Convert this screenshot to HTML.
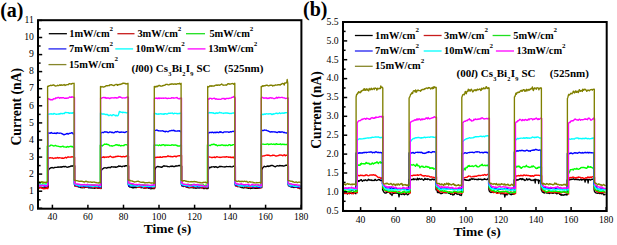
<!DOCTYPE html>
<html><head><meta charset="utf-8"><style>
html,body{margin:0;padding:0;background:#fff;width:617px;height:245px;overflow:hidden}
svg{display:block}
text{font-family:"Liberation Serif",serif;fill:#000}
.tk{font-size:9.7px}
.lg{font-size:10.4px;font-weight:bold}
.sup{font-size:7px}
.sub{font-size:6.3px}
.ttl{font-size:13.5px;font-weight:bold}
.lb{font-size:11px;font-weight:bold}
.pl{font-size:20px;font-weight:bold}
.curves path{fill:none;stroke-width:1.35;stroke-linejoin:round}
.ax line{stroke:#000;stroke-width:1.5}
</style></head><body>
<svg width="617" height="245" viewBox="0 0 617 245">
<rect width="617" height="245" fill="#fff"/>
<!-- panel a -->
<g class="curves">
<path d="M38.5 187.5 L39 187.5 L39.5 187.6 L40 187.6 L40.5 187.5 L41.1 187.3 L41.6 187.3 L42.1 187.7 L42.6 187.8 L43.1 188 L43.6 188 L44.1 188 L44.6 188 L45.1 187.5 L45.6 187.8 L46.2 187.9 L46.7 188 L47.2 187.6 L47.7 187.2 L48.2 187.2 L48.2 171 L48.7 169.6 L49.2 169 L49.7 168.5 L50.2 168.3 L50.7 167.9 L51.2 167.7 L51.7 167.7 L52.2 167.5 L52.7 167.9 L53.2 167.9 L53.7 168 L54.2 167.7 L54.7 167.5 L55.2 167.3 L55.7 167.3 L56.2 167.4 L56.7 167.4 L57.2 167.3 L57.7 167 L58.2 166.9 L58.7 167.3 L59.2 167 L59.7 167.1 L60.2 167.2 L60.7 166.8 L61.2 166.9 L61.7 167.2 L62.2 166.7 L62.7 166.7 L63.2 166.7 L63.7 166.5 L64.2 166.7 L64.7 166.7 L65.2 166.4 L65.7 166.7 L66.2 166.9 L66.7 167 L67.2 167.3 L67.7 167.2 L68.2 167.1 L68.7 166.7 L69.2 166.8 L69.7 166.6 L70.2 166.5 L70.7 166.2 L71.2 166 L71.7 166 L72.2 166.4 L72.7 165.8 L73.2 165.5 L73.7 165.6 L74.2 165.9 L74.7 165.8 L74.7 185.8 L75.2 186 L75.7 185.9 L76.2 185.6 L76.7 186.1 L77.2 186.2 L77.7 186.1 L78.2 186.6 L78.7 187 L79.2 187 L79.7 187.1 L80.2 187.2 L80.7 187.6 L81.2 187.6 L81.7 187.7 L82.2 187.7 L82.7 187.2 L83.2 187.6 L83.7 187.7 L84.2 187.8 L84.7 187.2 L85.2 187.1 L85.7 187.4 L86.2 187 L86.7 187.1 L87.2 187.4 L87.7 187.2 L88.1 187.6 L88.6 187.8 L89.1 187.7 L89.6 187.8 L90.1 187.9 L90.6 187.9 L91.1 188.1 L91.6 187.9 L92.1 187.8 L92.6 188 L93.1 188 L93.6 187.8 L94.1 188 L94.6 188.3 L95.1 188.1 L95.6 187.8 L96.1 187.8 L96.6 187.8 L97.1 187.8 L97.6 188.2 L98.1 188 L98.6 188.3 L99.1 188 L99.6 187.8 L100.1 188.1 L100.6 188.4 L101.1 188.6 L101.1 171 L101.6 170 L102.1 169.3 L102.6 168.8 L103.1 168.6 L103.6 168.2 L104.1 167.9 L104.6 167.9 L105.1 167.7 L105.6 167.8 L106.1 167.8 L106.6 168.2 L107.1 168 L107.6 167.7 L108.1 167.5 L108.6 167.4 L109.1 167.6 L109.6 167.4 L110.1 167.4 L110.6 167.7 L111.1 167 L111.6 166.7 L112.1 166.8 L112.6 166.9 L113.1 167 L113.6 166.9 L114.1 167 L114.6 167 L115.1 166.8 L115.6 167.4 L116.1 167.3 L116.6 167 L117.1 166.9 L117.6 166.7 L118.1 166.7 L118.6 166 L119.1 166 L119.6 166.3 L120.1 166.1 L120.6 166.1 L121.1 166.4 L121.6 166.6 L122.1 166.8 L122.6 166.3 L123.1 166.2 L123.6 166.1 L124.1 166.2 L124.6 166.5 L125.1 165.7 L125.6 166 L126.1 165.7 L126.6 165.9 L127.1 165.6 L127.6 165.7 L128.1 166 L128.6 165.9 L128.6 185.8 L129.1 186.5 L129.6 186.8 L130.1 187.1 L130.6 187.1 L131.1 187.1 L131.6 187.4 L132.1 187.6 L132.6 187.4 L133.1 188 L133.6 187.5 L134.1 187.6 L134.6 187.5 L135.1 187.4 L135.5 187.5 L136 187.5 L136.5 187.6 L137 187.2 L137.5 186.9 L138 187.2 L138.5 187 L139 186.9 L139.5 186.7 L140 187.2 L140.5 187.4 L141 187.8 L141.5 187.5 L142 187.5 L142.5 187.3 L143 187.6 L143.5 188 L144 187.7 L144.5 188.1 L145 188.2 L145.5 188.1 L146 187.5 L146.5 187.9 L147 187.9 L147.5 187.8 L148 187.9 L148.4 188 L148.9 188.3 L149.4 188 L149.9 188.3 L150.4 188.6 L150.9 188.8 L151.4 188.6 L151.9 188.3 L152.4 188.5 L152.9 188.4 L153.4 188.4 L153.9 188.7 L154.4 188.5 L154.9 187.9 L154.9 170 L155.4 168.6 L155.9 167.4 L156.4 167.1 L156.9 166.8 L157.4 166.5 L157.9 166.5 L158.4 166.7 L158.9 166.7 L159.4 166.9 L159.9 166.8 L160.4 167 L160.9 167.2 L161.4 167.4 L161.8 167 L162.3 167.1 L162.8 166.5 L163.3 166.2 L163.8 165.8 L164.3 166.2 L164.8 166 L165.3 166.1 L165.8 166.2 L166.3 166.2 L166.8 166.1 L167.3 166.3 L167.8 166.7 L168.3 166.6 L168.8 166.7 L169.3 166.8 L169.8 166.7 L170.3 166.3 L170.8 166.2 L171.3 166.5 L171.8 166.1 L172.3 166 L172.8 166.3 L173.3 166.5 L173.8 166.4 L174.3 166.6 L174.8 166.6 L175.2 166.2 L175.7 165.9 L176.2 165.8 L176.7 166.1 L177.2 166 L177.7 165.9 L178.2 165.8 L178.7 165.5 L179.2 165.7 L179.7 165.5 L180.2 165.8 L180.7 165.3 L181.2 165.6 L181.7 166.2 L181.7 185.8 L182.2 185.9 L182.7 185.9 L183.2 186.4 L183.7 186.5 L184.2 186.1 L184.7 186.2 L185.2 186.5 L185.7 186.5 L186.2 186.8 L186.7 187.1 L187.2 187.3 L187.7 187.3 L188.2 187.6 L188.7 187.7 L189.2 187.7 L189.7 187.1 L190.2 187.4 L190.7 187.7 L191.2 187.5 L191.7 187.4 L192.2 187.8 L192.7 187.3 L193.2 187.5 L193.7 188.1 L194.2 187.7 L194.7 187.8 L195.3 188.2 L195.8 188 L196.3 188.1 L196.8 188.2 L197.3 187.8 L197.8 187.8 L198.3 187.9 L198.8 188 L199.3 188 L199.8 187.9 L200.3 187.6 L200.8 187.6 L201.3 187.9 L201.8 187.9 L202.3 187.7 L202.8 187.6 L203.3 188.3 L203.8 188.5 L204.3 188.6 L204.8 187.8 L205.3 188.1 L205.8 188.2 L206.3 188.6 L206.8 188.6 L207.3 188.5 L207.8 188.5 L208.3 188 L208.3 170 L208.8 168.5 L209.3 167.9 L209.8 167.3 L210.3 167.4 L210.8 167.6 L211.3 167 L211.8 166.8 L212.3 166.9 L212.8 166.9 L213.3 166.8 L213.8 166.6 L214.3 167.1 L214.8 167.3 L215.3 166.9 L215.8 166.6 L216.3 167 L216.8 167.2 L217.3 167.5 L217.8 167.5 L218.3 167.1 L218.8 167.1 L219.3 166.5 L219.8 166.4 L220.3 166.5 L220.8 166.7 L221.3 166.5 L221.8 166.6 L222.4 166.7 L222.9 166.8 L223.4 166.9 L223.9 166.9 L224.4 166.8 L224.9 167 L225.4 166.9 L225.9 166.7 L226.4 166.5 L226.9 166.6 L227.4 166.6 L227.9 166.6 L228.4 166.6 L228.9 166.7 L229.4 166.6 L229.9 166.4 L230.4 166.5 L230.9 166.8 L231.4 166.9 L231.9 166.8 L232.4 166.8 L232.9 166.5 L233.4 166.1 L233.9 166.3 L234.4 166.1 L234.9 166.4 L235.4 166.6 L235.4 185.8 L235.9 185.9 L236.4 185.7 L236.9 185.8 L237.4 186.5 L237.9 186.6 L238.4 186.4 L238.9 186.4 L239.4 186.7 L239.9 186.9 L240.4 187 L240.9 187.4 L241.4 187.5 L241.9 187.4 L242.4 187.5 L242.9 187.8 L243.4 187.9 L243.9 188 L244.4 187.6 L244.9 187.5 L245.4 187.7 L245.9 187.5 L246.4 187.8 L246.9 187.8 L247.4 188 L247.9 187.8 L248.4 188.3 L248.8 188.4 L249.3 188.2 L249.8 188.1 L250.3 188.6 L250.8 188.3 L251.3 188.3 L251.8 188.4 L252.3 188.3 L252.8 187.9 L253.3 187.9 L253.8 188 L254.3 188.2 L254.8 188.3 L255.3 188.2 L255.8 188.4 L256.3 188.4 L256.8 188.3 L257.3 188.3 L257.8 188.2 L258.3 188.3 L258.8 188 L259.3 187.9 L259.8 188 L260.3 187.7 L260.8 187.7 L261.3 187.4 L261.8 187.5 L261.8 170 L262.3 168.5 L262.8 167.8 L263.3 167.3 L263.8 166.8 L264.3 166.2 L264.8 166.6 L265.3 166.7 L265.8 166.8 L266.3 166.5 L266.8 166.4 L267.3 166 L267.8 166.2 L268.3 166.5 L268.8 166 L269.3 166.1 L269.8 166.3 L270.3 165.9 L270.8 165.5 L271.3 165.5 L271.8 165.5 L272.3 165.4 L272.8 165.6 L273.3 165.8 L273.8 166.1 L274.3 166.3 L274.8 166.6 L275.4 166.8 L275.9 166.3 L276.4 166.2 L276.9 165.9 L277.4 165.7 L277.9 165.8 L278.4 165.9 L278.9 166.1 L279.4 165.7 L279.9 165.5 L280.4 165.7 L280.9 165.7 L281.4 165.7 L281.9 165.8 L282.4 165.7 L282.9 166 L283.4 166.1 L283.9 166 L284.4 165.9 L284.9 165.9 L285.4 165.3 L285.9 165.2 L286.4 165.4 L286.9 165.2 L287.4 165.5 L287.9 165.6 L288.4 166 L288.4 185.8 L288.9 185.4 L289.4 185.9 L289.9 186.2 L290.4 186.6 L290.9 186.9 L291.4 187 L291.9 186.9 L292.4 187 L292.9 187.1 L293.4 187.4 L293.9 187.5 L294.5 187.4 L295 187.2 L295.5 187.2 L296 187.2 L296.5 187.1 L297 187.3 L297.5 187.4 L298 187.6 L298.5 187.8 L299 187.8 L299.5 188.5 L300 188.4 L300.5 188.6" stroke="#000000"/>
<path d="M38.5 187.8 L39 187.8 L39.5 188.1 L40 187.5 L40.5 187.5 L41 187.6 L41.5 187.9 L42 188.4 L42.5 188.4 L43 188.6 L43.4 188.7 L43.9 188.7 L44.4 188.7 L44.9 188.5 L45.4 188.6 L45.9 188.2 L46.4 188.5 L46.9 188.2 L47.4 188.3 L47.9 188.7 L47.9 157.8 L48.4 157.7 L48.9 157.7 L49.4 158.1 L49.9 158 L50.4 157.7 L50.9 157.8 L51.4 157.9 L51.9 158 L52.4 157.8 L52.9 158.2 L53.4 158.5 L53.9 158.3 L54.4 158.2 L55 158 L55.5 158.2 L56 157.9 L56.5 158 L57 157.8 L57.5 157.5 L58 157.7 L58.5 158.1 L59 157.9 L59.5 157.7 L60 157.8 L60.5 157.8 L61 157.8 L61.5 158.1 L62 158.3 L62.5 157.9 L63 158.4 L63.5 158.2 L64 158.2 L64.5 157.9 L65 157.7 L65.5 157.2 L66 157.7 L66.5 158 L67 157.5 L67.5 157.1 L68.1 156.8 L68.6 157.2 L69.1 157.1 L69.6 157.2 L70.1 157.1 L70.6 157.2 L71.1 156.9 L71.6 157 L72.1 156.7 L72.6 156.8 L73.1 157 L73.6 157.2 L74.1 157.2 L74.6 157.3 L74.6 184.8 L75.1 185.6 L75.6 185.9 L76.1 186 L76.6 186.4 L77.1 186.6 L77.6 186.5 L78.1 186.4 L78.6 186.2 L79.1 186 L79.6 186.1 L80.1 186.2 L80.6 186.4 L81.2 186.6 L81.7 187.1 L82.2 186.8 L82.7 186.8 L83.2 187.4 L83.7 186.8 L84.2 186.7 L84.7 186.7 L85.2 186.8 L85.7 186.9 L86.2 186.9 L86.7 187 L87.2 187 L87.7 187.2 L88.2 186.7 L88.7 186.6 L89.2 186.7 L89.7 186.6 L90.2 186.5 L90.7 186.8 L91.2 186.8 L91.7 187 L92.2 187.3 L92.7 187.4 L93.2 187.5 L93.7 187.5 L94.2 187.1 L94.8 187.2 L95.3 187.4 L95.8 187.3 L96.3 187.4 L96.8 187.6 L97.3 187.4 L97.8 187.6 L98.3 188.1 L98.8 187.9 L99.3 187.9 L99.8 187.8 L100.3 188.2 L100.8 188.2 L100.8 157.4 L101.3 157.5 L101.8 157.3 L102.3 157.3 L102.8 157.3 L103.3 156.8 L103.8 157.3 L104.3 157.5 L104.8 156.9 L105.3 157.2 L105.8 157.1 L106.3 157.2 L106.8 157.3 L107.3 156.8 L107.9 156.8 L108.4 157.2 L108.9 157 L109.4 156.7 L109.9 156.4 L110.4 156.2 L110.9 156.5 L111.4 157 L111.9 157.1 L112.4 157.1 L112.9 157.6 L113.4 157.2 L113.9 156.9 L114.4 157 L114.9 157.1 L115.4 156.7 L115.9 156.4 L116.4 156.5 L116.9 156.6 L117.4 156.2 L117.9 156.2 L118.4 156.2 L118.9 156.4 L119.4 156.4 L119.9 156.4 L120.4 156.3 L120.9 156.6 L121.4 156.9 L122 156.7 L122.5 156.8 L123 156.5 L123.5 156.4 L124 156.6 L124.5 156.9 L125 156.6 L125.5 156.5 L126 156.5 L126.5 156 L127 156 L127.5 155.8 L128 156 L128.5 156.1 L128.5 184.8 L129 185.4 L129.5 185.3 L130 185.6 L130.5 185.9 L131 185.9 L131.5 186.2 L132 186.2 L132.5 186.1 L133 186.3 L133.5 186 L134 185.9 L134.5 186.1 L135 186.4 L135.5 186.4 L136 186.5 L136.5 186.4 L137 186.6 L137.5 187 L138 186.8 L138.5 187.3 L139 187 L139.5 187 L140 187 L140.5 187.2 L141 186.9 L141.6 186.4 L142.1 186.7 L142.6 187 L143.1 187.2 L143.6 187.8 L144.1 187.7 L144.6 187.6 L145.1 187.7 L145.6 187.7 L146.1 188 L146.6 187.5 L147.1 187.4 L147.6 186.6 L148.1 187 L148.6 187 L149.1 187.4 L149.6 187.9 L150.1 187.8 L150.6 187.7 L151.1 187.6 L151.6 187.4 L152.1 187.4 L152.6 187.6 L153.1 187.7 L153.6 187.7 L154.1 187.7 L154.6 188 L154.6 157.4 L155.1 157.4 L155.6 157.3 L156.1 157.5 L156.6 157.3 L157.1 157 L157.6 157.4 L158.1 157.4 L158.6 157.1 L159.1 157.3 L159.6 157.3 L160.1 156.8 L160.6 157.3 L161.1 157.2 L161.6 157.4 L162.1 157.3 L162.6 157.1 L163.1 156.6 L163.6 156.9 L164.1 156.8 L164.6 156.7 L165.1 156.7 L165.6 156.7 L166.1 156.8 L166.6 156.6 L167.1 156.6 L167.6 156 L168.1 155.9 L168.6 156.2 L169.1 156.6 L169.6 156.4 L170.1 156.3 L170.6 156.7 L171.1 156.5 L171.6 156.6 L172.1 156.9 L172.6 156.7 L173.1 156.8 L173.6 156.4 L174.1 156.4 L174.6 156.2 L175.1 156.2 L175.6 156.4 L176.1 156.9 L176.6 156.4 L177.1 156.1 L177.6 156.1 L178.1 155.7 L178.6 155.8 L179.1 155.9 L179.6 155.7 L180.1 155.8 L180.6 155.3 L181.1 155.5 L181.6 155.5 L181.6 184.8 L182.1 185.2 L182.6 185.4 L183.1 185.5 L183.6 185.7 L184.1 186 L184.6 186.1 L185.1 186.1 L185.6 186.3 L186.1 186.7 L186.6 186.6 L187.1 186.7 L187.6 186.9 L188.1 186.9 L188.6 186.5 L189.1 187.1 L189.6 187.5 L190.1 186.8 L190.6 186.8 L191.1 186.9 L191.6 187.1 L192.1 187.2 L192.6 187 L193.1 186.7 L193.6 186.8 L194.1 187.1 L194.6 186.8 L195 186.6 L195.5 186.7 L196 186.4 L196.5 186.5 L197 186.6 L197.5 186.8 L198 186.8 L198.5 186.7 L199 186.7 L199.5 186.9 L200 186.8 L200.5 187 L201 187.3 L201.5 187.6 L202 188 L202.5 187.7 L203 187.5 L203.5 187 L204 187.6 L204.5 187.4 L205 187.5 L205.5 187.7 L206 187.4 L206.5 187.6 L207 187.6 L207.5 187.3 L208 187.5 L208 157 L208.5 157.3 L209 156.8 L209.5 157 L210 157.1 L210.5 157.2 L211 157.3 L211.5 157.5 L212 157.3 L212.5 157.5 L213 157.3 L213.5 157.4 L214 157.1 L214.5 157 L214.9 157.5 L215.4 157.5 L215.9 157.3 L216.4 156.9 L216.9 156.7 L217.4 156.9 L217.9 157.1 L218.4 157.2 L218.9 157.3 L219.4 157.2 L219.9 157.5 L220.4 157.3 L220.9 157.1 L221.4 157.3 L221.9 157.2 L222.4 157.1 L222.9 156.9 L223.4 156.9 L223.9 157.1 L224.4 157.1 L224.9 156.8 L225.4 157 L225.9 157 L226.4 156.7 L226.9 157 L227.4 156.9 L227.9 156.9 L228.4 157.1 L228.8 157.4 L229.3 157.1 L229.8 157.2 L230.3 156.9 L230.8 157.6 L231.3 157.3 L231.8 157.5 L232.3 157.2 L232.8 157.4 L233.3 157.9 L233.8 157 L234.3 156.9 L234.8 157 L235.3 157 L235.3 184.8 L235.8 185.2 L236.3 185.4 L236.8 186.2 L237.3 186.2 L237.8 185.9 L238.3 186.2 L238.8 185.8 L239.3 186.3 L239.8 186.2 L240.3 186.3 L240.8 186.6 L241.3 186.6 L241.8 186.3 L242.4 186 L242.9 186.4 L243.4 186.6 L243.9 186.5 L244.4 186.7 L244.9 186.9 L245.4 187 L245.9 186.4 L246.4 186.5 L246.9 186.8 L247.4 187 L247.9 187.2 L248.4 186.6 L248.9 186.7 L249.4 186.9 L249.9 187.6 L250.4 187.2 L250.9 187.1 L251.4 187.2 L251.9 187.4 L252.4 187.3 L252.9 187.5 L253.4 187.3 L253.9 187.4 L254.4 187.3 L254.9 187.4 L255.5 187.2 L256 186.9 L256.5 187.3 L257 187.5 L257.5 187.4 L258 187.5 L258.5 187.8 L259 187.5 L259.5 187.6 L260 187.8 L260.5 187.9 L261 187.8 L261.5 187.3 L261.5 155.8 L262 156.2 L262.5 156.1 L263 156 L263.5 155.9 L264 155.9 L264.5 155.8 L265 155.5 L265.5 155.3 L266 155.3 L266.5 155.2 L267 155 L267.5 155.4 L268 155.1 L268.4 155.4 L268.9 155.2 L269.4 155.4 L269.9 155.8 L270.4 155.8 L270.9 155.6 L271.4 155.6 L271.9 155.7 L272.4 155.2 L272.9 155.1 L273.4 155.3 L273.9 155.2 L274.4 155.4 L274.9 155.6 L275.4 155.8 L275.9 156 L276.4 156 L276.9 155.8 L277.4 155.8 L277.9 155.6 L278.4 155.5 L278.9 155.5 L279.4 155 L279.9 155.1 L280.4 155.2 L280.9 155 L281.4 155.1 L281.8 155.3 L282.3 155.3 L282.8 155.9 L283.3 155.1 L283.8 155.1 L284.3 154.7 L284.8 155.2 L285.3 155.9 L285.8 155.1 L286.3 155.2 L286.8 155.4 L287.3 155.3 L287.8 155.5 L288.3 155.4 L288.3 184.8 L288.8 184.6 L289.3 185.4 L289.8 185.8 L290.3 186 L290.8 186.1 L291.4 186.4 L291.9 186.4 L292.4 186.5 L292.9 186.5 L293.4 186.1 L293.9 186.3 L294.4 186.6 L294.9 186.9 L295.4 186.8 L295.9 186.9 L296.4 187.2 L296.9 187.3 L297.4 187.7 L298 188.1 L298.5 187.8 L299 187.4 L299.5 187.7 L300 188.1 L300.5 188.3" stroke="#ff0000"/>
<path d="M38.5 182.6 L39 182.8 L39.5 182.6 L40 182.5 L40.5 182.8 L40.9 182.6 L41.4 182.3 L41.9 182.2 L42.4 182.9 L42.9 183.2 L43.4 183 L43.9 182.8 L44.4 182.9 L44.9 182.8 L45.3 183.1 L45.8 183.1 L46.3 182.8 L46.8 183.1 L47.3 183 L47.3 146.1 L47.8 146.2 L48.3 146.2 L48.8 146.1 L49.3 146.2 L49.8 146 L50.3 145.6 L50.8 145.1 L51.3 145.1 L51.8 145.1 L52.3 145.4 L52.8 145.6 L53.3 145.9 L53.8 146 L54.3 145.9 L54.8 145.8 L55.3 145.4 L55.8 145.5 L56.3 145.9 L56.8 146.1 L57.3 146.1 L57.8 146.1 L58.3 146.4 L58.8 146.4 L59.3 146.6 L59.8 146.7 L60.3 146.7 L60.9 146.9 L61.4 146.6 L61.9 146.5 L62.4 146.3 L62.9 146.1 L63.4 146.6 L63.9 147 L64.4 146.9 L64.9 146.9 L65.4 147.1 L65.9 147.2 L66.4 147.3 L66.9 146.8 L67.4 146.5 L67.9 146.6 L68.4 147 L68.9 146.9 L69.4 146.6 L69.9 146.5 L70.4 146.3 L70.9 146.2 L71.4 146.7 L71.9 146.5 L72.4 146.5 L72.9 147.1 L73.4 147.3 L73.9 147.2 L74.4 146.6 L74.4 183.2 L74.9 183.7 L75.4 184.1 L75.9 184.6 L76.4 184.8 L76.9 185 L77.4 184.9 L77.9 185 L78.4 184.9 L78.9 184.9 L79.4 185.1 L79.9 184.8 L80.4 184.8 L80.9 184.8 L81.3 184.7 L81.8 184.7 L82.3 184.9 L82.8 185.3 L83.3 185.4 L83.8 185.3 L84.3 184.9 L84.8 185.4 L85.3 185.3 L85.8 185.2 L86.3 185 L86.8 185 L87.3 184.8 L87.8 184.9 L88.3 185.1 L88.8 185.2 L89.3 185.2 L89.8 185.1 L90.3 185.4 L90.8 185.3 L91.3 185 L91.8 185 L92.3 185 L92.8 184.9 L93.3 185 L93.8 185.2 L94.2 185 L94.7 185.1 L95.2 185.5 L95.7 185.7 L96.2 185.7 L96.7 185.7 L97.2 185.7 L97.7 185.7 L98.2 185.9 L98.7 185.8 L99.2 185.3 L99.7 185.5 L100.2 185.4 L100.2 145.2 L100.7 145.8 L101.2 145.5 L101.7 145.5 L102.2 146 L102.7 145.5 L103.2 145.1 L103.7 144.8 L104.2 144.3 L104.7 144 L105.2 144.4 L105.7 144.4 L106.2 144.1 L106.7 144 L107.2 144.5 L107.7 144.4 L108.2 144.5 L108.7 144.8 L109.2 145.3 L109.7 145.8 L110.2 145.9 L110.7 145.8 L111.2 145.7 L111.7 146 L112.2 146.2 L112.7 145.9 L113.2 145.8 L113.7 145.7 L114.2 145.6 L114.8 145.4 L115.3 145 L115.8 144.9 L116.3 144.6 L116.8 145 L117.3 145.2 L117.8 144.9 L118.3 145.3 L118.8 145.5 L119.3 145 L119.8 145.5 L120.3 145.6 L120.8 146.1 L121.3 145.5 L121.8 145.6 L122.3 145.6 L122.8 145.6 L123.3 145.5 L123.8 145.7 L124.3 145.2 L124.8 144.9 L125.3 144.6 L125.8 144.6 L126.3 144.6 L126.8 144.8 L127.3 145 L127.8 145.1 L128.3 145.2 L128.3 183.2 L128.8 183.4 L129.3 183.7 L129.8 184.2 L130.3 184.5 L130.8 184.6 L131.3 184.5 L131.8 184.9 L132.3 184.7 L132.8 184.8 L133.3 185.1 L133.8 184.9 L134.3 185.1 L134.9 184.8 L135.4 185 L135.9 185 L136.4 184.7 L136.9 184.9 L137.4 184.7 L137.9 185.1 L138.4 184.9 L138.9 184.9 L139.4 185 L139.9 185 L140.4 185.1 L140.9 185 L141.4 185.2 L141.9 185.2 L142.4 185.2 L142.9 184.7 L143.4 185.1 L143.9 185.2 L144.4 184.9 L144.9 185 L145.4 185.2 L145.9 185.5 L146.4 185.3 L146.9 185.6 L147.4 185.6 L148 186 L148.5 185.9 L149 186 L149.5 185.8 L150 185.5 L150.5 185.8 L151 186 L151.5 186.2 L152 186.3 L152.5 186 L153 185.7 L153.5 185.6 L154 185.5 L154 145.2 L154.5 144.9 L155 145.1 L155.5 145.2 L156 145.1 L156.5 145.2 L157 145.1 L157.5 145.2 L158 145.4 L158.5 145.6 L159 145.3 L159.5 144.9 L160 145.3 L160.5 145.3 L161 145.6 L161.5 145 L162 145 L162.5 145 L163 144.7 L163.5 144.6 L164 144.9 L164.5 145.3 L165 145.7 L165.5 145.3 L166 144.9 L166.5 145.1 L167 145.3 L167.5 145.3 L167.9 144.9 L168.4 145.2 L168.9 145.4 L169.4 145.4 L169.9 145.2 L170.4 145.3 L170.9 145.4 L171.4 145.2 L171.9 144.7 L172.4 144.8 L172.9 145 L173.4 145 L173.9 145.3 L174.4 145.1 L174.9 145 L175.4 145 L175.9 145.1 L176.4 145.5 L176.9 145.3 L177.4 145.8 L177.9 146 L178.4 146 L178.9 145.9 L179.4 146.1 L179.9 145.8 L180.4 145.6 L180.9 145.1 L181.4 145 L181.4 183.2 L181.9 183.7 L182.4 184.3 L182.9 184.5 L183.4 184.7 L183.9 184.6 L184.4 184.7 L184.9 184.4 L185.4 184.7 L185.9 184.6 L186.4 184.4 L186.9 184.4 L187.4 184.3 L187.9 184.6 L188.4 184.9 L188.9 184.6 L189.4 184.9 L189.9 185.1 L190.4 184.9 L190.9 184.6 L191.4 184.6 L191.9 184.6 L192.4 184.8 L192.9 184.8 L193.4 184.5 L193.9 184.7 L194.4 184.5 L194.9 184.9 L195.4 184.7 L195.9 184.7 L196.4 184.7 L196.9 184.7 L197.4 185.1 L197.9 185.4 L198.4 185.5 L198.9 185.5 L199.4 185.2 L199.9 185.2 L200.4 185.1 L200.9 185 L201.4 185.3 L201.9 185.2 L202.4 185.2 L202.9 185.1 L203.4 184.8 L203.9 185.2 L204.4 185.6 L204.9 185.6 L205.4 185.5 L205.9 185 L206.4 185.3 L206.9 185.6 L207.4 185.8 L207.4 144.8 L207.9 145.2 L208.4 145.5 L208.9 145.6 L209.4 145.3 L209.9 145.4 L210.4 145.5 L210.9 144.9 L211.4 144.8 L211.9 144.4 L212.4 144.5 L212.9 144.7 L213.4 144.4 L213.9 144 L214.5 144.5 L215 144.7 L215.5 145.1 L216 144.7 L216.5 145 L217 145.5 L217.5 145.9 L218 145.5 L218.5 145.4 L219 145.2 L219.5 145.4 L220 145.5 L220.5 145.4 L221 144.9 L221.5 145 L222 144.9 L222.5 145 L223 145 L223.5 145.4 L224 145.6 L224.5 145.2 L225 145.2 L225.5 145.6 L226 145.2 L226.5 145.2 L227 145.5 L227.5 145.6 L228 145.6 L228.6 145 L229.1 144.6 L229.6 144.7 L230.1 144.9 L230.6 145.5 L231.1 145.1 L231.6 145.3 L232.1 145.4 L232.6 144.8 L233.1 144.6 L233.6 144.7 L234.1 144.6 L234.6 144.6 L235.1 144.8 L235.1 183.2 L235.6 183.8 L236.1 184 L236.6 184.3 L237.1 184.3 L237.6 184.3 L238.1 184.5 L238.6 184.4 L239.1 184.6 L239.6 184.9 L240.1 184.9 L240.6 184.8 L241.1 185 L241.5 184.9 L242 185.1 L242.5 184.8 L243 184.9 L243.5 184.8 L244 184.7 L244.5 185.1 L245 184.9 L245.5 185.3 L246 185.4 L246.5 185.6 L247 185.3 L247.5 185.5 L248 185.7 L248.5 185.6 L249 185.5 L249.5 185.9 L250 185.8 L250.5 185.6 L251 185.4 L251.5 185.5 L252 185.5 L252.5 185.5 L253 185.9 L253.5 185.7 L254 185.7 L254.4 186 L254.9 185.7 L255.4 185.9 L255.9 186.2 L256.4 185.8 L256.9 185.5 L257.4 185.4 L257.9 185.1 L258.4 185.3 L258.9 185.1 L259.4 185.4 L259.9 185.8 L260.4 185.5 L260.9 185.5 L260.9 144.5 L261.4 143.8 L261.9 144.2 L262.4 144.1 L262.9 144.1 L263.4 144.2 L263.9 144.4 L264.4 144.4 L264.9 144.4 L265.4 144.3 L265.9 144.4 L266.4 144.1 L266.9 144.2 L267.4 143.8 L268 143.8 L268.5 144.5 L269 144.5 L269.5 144.2 L270 144.3 L270.5 144.1 L271 143.8 L271.5 143.8 L272 144.1 L272.5 144.3 L273 144.3 L273.5 144.1 L274 143.9 L274.5 144.4 L275 144.5 L275.5 144.3 L276 143.8 L276.5 143.6 L277 144.5 L277.5 144.2 L278 144.2 L278.5 144.4 L279 144.4 L279.5 144.3 L280 144 L280.5 143.8 L281 144.5 L281.6 144.3 L282.1 144.5 L282.6 144.1 L283.1 144.1 L283.6 144.3 L284.1 144.6 L284.6 144.3 L285.1 144.5 L285.6 144.6 L286.1 144.4 L286.6 144.5 L287.1 144.3 L287.6 144.1 L288.1 144.5 L288.1 183.2 L288.6 183.6 L289.1 183.5 L289.6 183.8 L290.1 183.9 L290.6 183.9 L291.1 184.1 L291.6 184.4 L292.1 184.5 L292.6 184.9 L293.1 184.7 L293.6 184.6 L294.1 185.1 L294.5 185.2 L295 185.4 L295.5 185.3 L296 185.5 L296.5 185.5 L297 185.7 L297.5 185.7 L298 185.9 L298.5 185.7 L299 185.6 L299.5 185.3 L300 185.7 L300.5 185.6" stroke="#00ff00"/>
<path d="M38.5 186 L39 185.8 L39.5 185.6 L40 185.6 L40.5 185.5 L40.9 185.6 L41.4 185.6 L41.9 185.6 L42.4 185.5 L42.9 185.7 L43.4 185.7 L43.9 185.9 L44.4 186 L44.9 186.2 L45.4 185.7 L45.8 185.7 L46.3 185.7 L46.8 186 L47.3 185.7 L47.8 185.7 L47.8 133 L48.3 132.9 L48.8 132.9 L49.3 133.2 L49.8 133.1 L50.3 133.3 L50.8 132.9 L51.3 132.5 L51.8 133 L52.3 133.1 L52.8 133.3 L53.3 133.3 L53.8 133.4 L54.3 133 L54.8 133.3 L55.3 133.2 L55.8 133.5 L56.3 133.5 L56.8 132.9 L57.3 132.7 L57.8 133.1 L58.3 133.2 L58.8 133.1 L59.3 133.2 L59.8 133.2 L60.3 133.1 L60.8 133.2 L61.3 133.3 L61.8 133.7 L62.3 133.7 L62.8 134.1 L63.3 134.5 L63.8 134.7 L64.3 134.7 L64.8 134.4 L65.3 134.3 L65.8 134.1 L66.3 133.7 L66.8 133.7 L67.3 133.5 L67.8 134 L68.3 134 L68.8 133.8 L69.3 133.3 L69.8 133.4 L70.3 133.4 L70.8 133.2 L71.3 133 L71.8 132.6 L72.3 133.1 L72.8 133.2 L73.3 134.1 L73.8 134 L74.3 133.8 L74.3 184.3 L74.8 184.4 L75.3 185.2 L75.8 185.4 L76.3 185.6 L76.8 185.5 L77.3 185.5 L77.8 185.9 L78.3 186.1 L78.8 186.4 L79.3 186.2 L79.8 186.1 L80.3 185.9 L80.8 186.1 L81.3 185.8 L81.8 186 L82.3 186.2 L82.8 186.5 L83.3 186.2 L83.8 186.4 L84.3 186.2 L84.8 186 L85.3 185.8 L85.8 186.1 L86.3 186.6 L86.8 186.4 L87.3 186.2 L87.7 186.1 L88.2 186.8 L88.7 186.9 L89.2 186.7 L89.7 186.2 L90.2 186.1 L90.7 186.5 L91.2 186.9 L91.7 186.8 L92.2 186.6 L92.7 186.5 L93.2 186.1 L93.7 186.4 L94.2 186.3 L94.7 186.6 L95.2 186.3 L95.7 186.1 L96.2 186.4 L96.7 186.3 L97.2 186.6 L97.7 186.7 L98.2 186.5 L98.7 186.8 L99.2 187 L99.7 186.6 L100.2 187.1 L100.7 187.2 L100.7 132.8 L101.2 133.1 L101.7 132.5 L102.2 132.4 L102.7 132.4 L103.2 132.7 L103.7 132.3 L104.2 132.1 L104.7 131.7 L105.2 131.9 L105.7 132.1 L106.2 131.8 L106.7 131.8 L107.2 132.1 L107.7 132.6 L108.2 132.7 L108.7 132.6 L109.2 132.2 L109.7 132 L110.2 131.9 L110.7 132.1 L111.2 132.1 L111.7 132.6 L112.2 132.6 L112.7 132.2 L113.2 132.6 L113.7 132.8 L114.2 132.7 L114.7 132.4 L115.2 131.8 L115.7 131.6 L116.2 132 L116.7 131.8 L117.2 131.5 L117.7 131.7 L118.2 131.9 L118.7 132.1 L119.2 132.2 L119.7 132.5 L120.2 132.2 L120.7 132.4 L121.2 132 L121.7 132.2 L122.2 132.1 L122.7 132.1 L123.2 132.3 L123.7 132.2 L124.2 132.4 L124.7 132.5 L125.2 132.3 L125.7 132 L126.2 131.8 L126.7 131.6 L127.2 131.6 L127.7 131.6 L128.2 131.7 L128.2 184.3 L128.7 185.7 L129.2 186 L129.7 186.2 L130.2 185.9 L130.7 185.7 L131.2 185.7 L131.7 185.7 L132.2 185.5 L132.7 186 L133.2 185.8 L133.7 186.1 L134.2 185.5 L134.7 185.6 L135.1 185.8 L135.6 185.9 L136.1 186.1 L136.6 186.1 L137.1 186.2 L137.6 185.7 L138.1 185.7 L138.6 185.2 L139.1 185.6 L139.6 185.9 L140.1 185.9 L140.6 185.8 L141.1 185.8 L141.6 186.4 L142.1 186.8 L142.6 186.7 L143.1 186.9 L143.6 186.4 L144.1 186 L144.6 186 L145.1 185.9 L145.6 186 L146.1 186.2 L146.6 187 L147.1 186.8 L147.6 186.7 L148 186.8 L148.5 186.8 L149 187 L149.5 187.4 L150 186.9 L150.5 187 L151 186.9 L151.5 187 L152 186.6 L152.5 186.3 L153 185.9 L153.5 186.3 L154 186.6 L154.5 186.7 L154.5 131 L155 130.3 L155.5 130.3 L156 130.3 L156.5 130.1 L157 130 L157.5 130.4 L158 130.7 L158.5 130.7 L159 130.9 L159.5 130.8 L160 130.8 L160.5 130.8 L161 131 L161.4 130.9 L161.9 130.9 L162.4 130.8 L162.9 130.6 L163.4 131.3 L163.9 131.3 L164.4 131.3 L164.9 131.8 L165.4 131.9 L165.9 131.2 L166.4 131.3 L166.9 131.4 L167.4 131.7 L167.9 131.8 L168.4 131.7 L168.9 131.2 L169.4 130.8 L169.9 130.9 L170.4 130.9 L170.9 130.6 L171.4 130.5 L171.9 130.4 L172.4 130.5 L172.9 130.6 L173.4 130.5 L173.9 130.2 L174.4 130.7 L174.8 131.1 L175.3 130.9 L175.8 131.1 L176.3 131.1 L176.8 131.1 L177.3 131.1 L177.8 130.8 L178.3 130.9 L178.8 131 L179.3 130.7 L179.8 131.1 L180.3 131.5 L180.8 131.8 L181.3 130.5 L181.3 184.3 L181.8 185.1 L182.3 185.6 L182.8 185.6 L183.3 185.5 L183.8 185.4 L184.3 185.5 L184.8 185.6 L185.3 185.8 L185.8 185.3 L186.3 186 L186.8 186.5 L187.3 186.4 L187.8 186.4 L188.3 186.4 L188.8 186.4 L189.3 186.2 L189.8 186.2 L190.3 186 L190.8 186 L191.3 186.1 L191.8 186.2 L192.3 186 L192.8 186.1 L193.3 186.1 L193.8 186.3 L194.3 186.1 L194.9 186.2 L195.4 186.5 L195.9 186.6 L196.4 186.5 L196.9 186.4 L197.4 186.3 L197.9 186.6 L198.4 186.9 L198.9 186.8 L199.4 186.6 L199.9 186.7 L200.4 186.7 L200.9 186.5 L201.4 186.4 L201.9 186.5 L202.4 186.7 L202.9 186.4 L203.4 186.3 L203.9 186.6 L204.4 186.4 L204.9 186.5 L205.4 186.7 L205.9 186.7 L206.4 186.6 L206.9 186.7 L207.4 186.7 L207.9 186.9 L207.9 132.4 L208.4 133.1 L208.9 133.2 L209.4 132.5 L209.9 132.4 L210.4 132.4 L210.9 132.6 L211.4 132.3 L211.9 132.5 L212.4 132.2 L212.9 132.4 L213.4 132.8 L213.9 132.5 L214.4 132.6 L214.9 132.2 L215.4 132.4 L215.9 132.7 L216.4 132.5 L216.9 132.1 L217.4 132.2 L217.9 132.5 L218.4 132.6 L218.9 132.7 L219.4 132 L219.9 131.8 L220.4 132.2 L220.9 131.8 L221.4 132.1 L222 132.6 L222.5 132.6 L223 132.7 L223.5 132.4 L224 131.9 L224.5 131.9 L225 131.8 L225.5 131.8 L226 132 L226.5 131.9 L227 131.9 L227.5 131.9 L228 131.9 L228.5 132.3 L229 132.3 L229.5 132.1 L230 131.9 L230.5 131.7 L231 132 L231.5 131.9 L232 131.6 L232.5 131.4 L233 131.4 L233.5 131.3 L234 131.6 L234.5 131.3 L235 131.5 L235 184.3 L235.5 184.9 L236 185.3 L236.5 185.2 L237 185.3 L237.5 185.4 L238 185.6 L238.5 185.6 L239 185.7 L239.5 185.4 L240 185.2 L240.5 185.6 L241 185.9 L241.5 185.9 L242 185.8 L242.5 186.1 L243 185.6 L243.5 185.5 L244 185.8 L244.5 186.1 L245 185.8 L245.5 185.5 L246 186 L246.5 186.1 L247 185.9 L247.5 186 L248 186.3 L248.4 185.7 L248.9 186.1 L249.4 186.4 L249.9 185.9 L250.4 186.2 L250.9 185.9 L251.4 186.3 L251.9 186.5 L252.4 187 L252.9 186.8 L253.4 186.7 L253.9 187 L254.4 186.7 L254.9 186.6 L255.4 186.5 L255.9 186.6 L256.4 186.4 L256.9 186.6 L257.4 186.8 L257.9 186.8 L258.4 187.2 L258.9 187.1 L259.4 187.4 L259.9 187.1 L260.4 187.3 L260.9 186.8 L261.4 186.9 L261.4 130.7 L261.9 130.5 L262.4 130.5 L262.9 130.4 L263.4 130.5 L263.9 130.4 L264.4 130 L264.9 130.1 L265.4 130.2 L265.9 130.3 L266.4 130.2 L266.9 130.5 L267.4 130.9 L267.9 130.9 L268.4 130.9 L268.9 131.4 L269.4 131.6 L269.9 131.8 L270.4 132.1 L270.9 131.8 L271.4 131.7 L271.9 132 L272.4 131.8 L272.9 131.7 L273.4 131.8 L273.9 131.9 L274.4 131.8 L275 132.1 L275.5 132 L276 132.1 L276.5 132.4 L277 132.5 L277.5 132.5 L278 132.1 L278.5 131.8 L279 131.7 L279.5 131.9 L280 132.4 L280.5 132 L281 132.2 L281.5 132 L282 131.9 L282.5 131.9 L283 132.2 L283.5 132.4 L284 132.7 L284.5 132.4 L285 132.7 L285.5 132.9 L286 132.9 L286.5 133 L287 132.8 L287.5 132.5 L288 132.7 L288 184.3 L288.5 184.8 L289 185 L289.5 186 L290 185.9 L290.5 186.3 L291 186.3 L291.5 186.3 L292 186.5 L292.5 186.2 L293 186.4 L293.5 186.5 L294 186.1 L294.5 186.4 L295 186.5 L295.5 186.6 L296 187 L296.5 186.8 L297 186.9 L297.5 187.1 L298 186.8 L298.5 187.1 L299 186.8 L299.5 186.5 L300 186.8 L300.5 186.6" stroke="#0000ff"/>
<path d="M38.5 185 L39 185 L39.5 184.7 L40 184.8 L40.5 184.6 L41 184.9 L41.5 184.6 L42 184.9 L42.5 184.9 L43 185 L43.6 185.1 L44.1 185.2 L44.6 185 L45.1 184.5 L45.6 184.7 L46.1 184.7 L46.6 184.8 L47.1 185.1 L47.6 184.8 L47.6 114.5 L48.1 114.3 L48.6 114.1 L49.1 113.9 L49.6 114.1 L50.1 114.1 L50.6 113.9 L51.1 113.7 L51.6 114.1 L52.1 113.9 L52.6 114.1 L53.1 114.2 L53.6 113.7 L54.1 113.5 L54.5 113.6 L55 113.8 L55.5 114.1 L56 114.2 L56.5 114.4 L57 114.2 L57.5 114.1 L58 114.2 L58.5 114 L59 114.2 L59.5 113.7 L60 113.9 L60.5 113.8 L61 113.2 L61.5 113.6 L62 113.7 L62.5 113.7 L63 113.3 L63.5 113.3 L64 113.7 L64.5 113.4 L65 112.5 L65.5 112.5 L66 112.4 L66.5 112.6 L67 112.7 L67.5 112.6 L67.9 112.6 L68.4 113 L68.9 112.7 L69.4 113.3 L69.9 113.1 L70.4 112.9 L70.9 113.1 L71.4 113.3 L71.9 112.9 L72.4 113.2 L72.9 112.6 L73.4 112.5 L73.9 112.9 L74.4 113 L74.4 184.1 L74.9 184.1 L75.4 184.2 L75.9 184.7 L76.4 185.2 L76.9 185.3 L77.4 184.9 L77.9 185 L78.4 185.3 L78.9 185.5 L79.4 186 L79.9 185.8 L80.4 185.7 L80.9 185.7 L81.4 186 L81.9 185.7 L82.4 186 L82.9 185.3 L83.4 185.6 L83.9 185.5 L84.4 185.7 L84.9 185.9 L85.4 185.7 L85.9 185.7 L86.4 185.8 L86.9 186 L87.5 185.8 L88 185.6 L88.5 185.3 L89 186.1 L89.5 186.1 L90 186 L90.5 185.7 L91 186.1 L91.5 186 L92 186.4 L92.5 186.5 L93 186.5 L93.5 186.6 L94 186.3 L94.5 186.2 L95 186.1 L95.5 185.9 L96 186.1 L96.5 186.1 L97 186.6 L97.5 185.8 L98 185.8 L98.5 185.8 L99 185.9 L99.5 186.2 L100 186.4 L100.5 186.5 L100.5 113 L101 113.1 L101.5 113.7 L102 114.1 L102.5 114 L103 114.2 L103.5 114 L104 113.9 L104.5 114.1 L105 114.3 L105.5 114.5 L106 114.4 L106.5 114.5 L107 114.3 L107.5 114.6 L107.9 114.9 L108.4 115.4 L108.9 115.7 L109.4 115.3 L109.9 115.2 L110.4 114.9 L110.9 115.1 L111.4 115.6 L111.9 115.7 L112.4 115.1 L112.9 114.8 L113.4 114.6 L113.9 114.9 L114.4 115.1 L114.9 115.2 L115.4 115.8 L115.9 115.5 L116.4 115.3 L116.9 115.9 L117.4 115.9 L117.9 115.7 L118.4 114.9 L118.9 113.2 L119.4 111.4 L119.9 111.6 L120.4 111.9 L120.9 112.3 L121.4 112.3 L121.8 112.2 L122.3 112.1 L122.8 112.7 L123.3 112.2 L123.8 112.3 L124.3 112.4 L124.8 112.6 L125.3 112.5 L125.8 112.7 L126.3 112.9 L126.8 112.8 L127.3 112.6 L127.8 112.5 L128.3 112.6 L128.3 184.1 L128.8 184.4 L129.3 184.7 L129.8 184.9 L130.3 185.1 L130.8 185.6 L131.3 185.9 L131.8 185.7 L132.3 185.8 L132.8 185.8 L133.3 185.9 L133.8 185.9 L134.3 185.9 L134.8 185.7 L135.3 185.6 L135.8 185.8 L136.3 186.1 L136.8 186.2 L137.3 186.2 L137.8 186.2 L138.3 186 L138.8 185.6 L139.3 185.8 L139.8 185.9 L140.3 185.8 L140.8 185.6 L141.3 186 L141.8 185.6 L142.3 186.1 L142.8 186.3 L143.3 186.8 L143.8 186.5 L144.3 186.4 L144.8 186.2 L145.3 186.3 L145.8 186.2 L146.3 186.1 L146.8 186.4 L147.3 186.2 L147.8 186.1 L148.3 186.3 L148.8 186.2 L149.3 186.2 L149.8 186.3 L150.3 186.3 L150.8 186 L151.3 186.1 L151.8 186.2 L152.3 186.7 L152.8 186.4 L153.3 186.7 L153.8 186.5 L154.3 186.5 L154.3 113.5 L154.8 113.4 L155.3 113.5 L155.8 113.7 L156.3 114.1 L156.8 113.8 L157.3 114.1 L157.8 114.2 L158.3 114.2 L158.8 113.8 L159.3 114 L159.8 113.8 L160.3 113.8 L160.8 113.6 L161.3 113.8 L161.8 114 L162.3 114.1 L162.8 113.9 L163.3 114.1 L163.8 114.3 L164.3 113.8 L164.8 114.1 L165.3 113.6 L165.8 113.7 L166.3 113.8 L166.8 114.1 L167.3 114 L167.9 113.7 L168.4 113.4 L168.9 113.1 L169.4 113.4 L169.9 113.3 L170.4 113.1 L170.9 113.3 L171.4 113.1 L171.9 113.1 L172.4 113 L172.9 113.5 L173.4 113.9 L173.9 113.7 L174.4 113.2 L174.9 113.3 L175.4 113.3 L175.9 113.4 L176.4 113.5 L176.9 113.4 L177.4 113.6 L177.9 113.8 L178.4 113.7 L178.9 113.5 L179.4 113.3 L179.9 113.5 L180.4 113.2 L180.9 113.2 L181.4 113.3 L181.4 184.1 L181.9 184.4 L182.4 184.5 L182.9 184.9 L183.4 185.1 L183.9 185.2 L184.4 185.5 L184.9 185.2 L185.4 185.3 L185.9 185.4 L186.4 185.7 L186.9 185.4 L187.4 185.6 L187.9 185.7 L188.3 186 L188.8 186.2 L189.3 186.2 L189.8 186.6 L190.3 186.4 L190.8 186.2 L191.3 186 L191.8 185.8 L192.3 185.8 L192.8 185.4 L193.3 185.5 L193.8 185.7 L194.3 186 L194.8 186 L195.3 186.3 L195.8 186.1 L196.3 186.1 L196.8 185.7 L197.3 185.6 L197.8 185.6 L198.3 186.1 L198.8 186.2 L199.3 186 L199.8 186.2 L200.3 186.3 L200.8 186.3 L201.2 186.3 L201.7 186.2 L202.2 186.2 L202.7 185.8 L203.2 186 L203.7 186.4 L204.2 186.7 L204.7 186.6 L205.2 186.4 L205.7 186.4 L206.2 186.7 L206.7 186.7 L207.2 186.6 L207.7 186.7 L207.7 113 L208.2 112.8 L208.7 113 L209.2 112.9 L209.7 112.5 L210.2 112.6 L210.7 112.9 L211.2 112.6 L211.7 112.7 L212.2 113 L212.7 112.9 L213.2 112.7 L213.7 113.3 L214.2 113.4 L214.7 113.5 L215.2 113.1 L215.7 113.5 L216.2 112.9 L216.7 112.8 L217.2 113 L217.7 113.3 L218.2 113 L218.7 112.8 L219.2 112.8 L219.7 112.3 L220.2 112.6 L220.7 112.8 L221.2 112.7 L221.6 112.9 L222.1 113.1 L222.6 113.1 L223.1 113.2 L223.6 113.5 L224.1 113.2 L224.6 113.1 L225.1 112.9 L225.6 113.1 L226.1 112.9 L226.6 113 L227.1 113 L227.6 113 L228.1 113.3 L228.6 113.2 L229.1 113.4 L229.6 113.5 L230.1 113.6 L230.6 113.4 L231.1 113.4 L231.6 113.5 L232.1 113.1 L232.6 113.1 L233.1 113 L233.6 112.9 L234.1 113.2 L234.6 112.9 L235.1 112.7 L235.1 184.1 L235.6 184.4 L236.1 184.4 L236.6 184.6 L237.1 184.7 L237.6 184.9 L238.1 185.2 L238.6 185.7 L239.1 185.7 L239.6 185.8 L240.1 185.6 L240.6 185.7 L241.1 186 L241.6 186.2 L242.1 185.7 L242.6 185.9 L243.1 186.2 L243.6 186.3 L244.1 185.8 L244.6 185.8 L245.1 185.9 L245.6 186 L246.1 185.8 L246.6 185.6 L247.1 185.9 L247.6 185.7 L248.2 186.1 L248.7 186.1 L249.2 186.1 L249.7 185.8 L250.2 185.8 L250.7 186 L251.2 185.7 L251.7 186.3 L252.2 186 L252.7 185.8 L253.2 185.9 L253.7 186.1 L254.2 186.3 L254.7 186.3 L255.2 186.2 L255.7 186.2 L256.2 186.1 L256.7 185.6 L257.2 186.1 L257.7 186.2 L258.2 186.3 L258.7 186.3 L259.2 186.4 L259.7 186.4 L260.2 186.5 L260.7 186.8 L261.2 186.4 L261.2 114.5 L261.7 114.6 L262.2 114.3 L262.7 114.2 L263.2 114.6 L263.7 114.2 L264.2 114.2 L264.7 114 L265.2 114.3 L265.7 114 L266.2 113.6 L266.7 113.8 L267.2 113.8 L267.7 113.8 L268.2 114.1 L268.7 113.8 L269.2 113.7 L269.7 113.8 L270.2 113.9 L270.7 113.7 L271.2 114 L271.7 114.5 L272.2 114.2 L272.7 114.5 L273.2 113.8 L273.7 114.1 L274.2 113.8 L274.6 113.8 L275.1 113.6 L275.6 113.4 L276.1 113.1 L276.6 113.1 L277.1 113.5 L277.6 113.7 L278.1 113.5 L278.6 113.3 L279.1 113.1 L279.6 112.8 L280.1 113.4 L280.6 113.5 L281.1 113.4 L281.6 113.2 L282.1 112.9 L282.6 113.2 L283.1 113.4 L283.6 113 L284.1 113.2 L284.6 112.8 L285.1 113 L285.6 112.7 L286.1 112.6 L286.6 112.7 L287.1 112.8 L287.6 113 L288.1 112.7 L288.1 184.1 L288.6 184.3 L289.1 185.1 L289.6 185.6 L290.1 185.7 L290.6 185.8 L291.1 185.6 L291.6 185.7 L292.1 185.4 L292.6 185.6 L293.1 185.7 L293.6 186.1 L294.1 186.3 L294.5 186.4 L295 186.3 L295.5 186.2 L296 186.2 L296.5 186.3 L297 185.9 L297.5 186.2 L298 185.9 L298.5 186 L299 186.1 L299.5 186.1 L300 186.7 L300.5 186.7" stroke="#00ffff"/>
<path d="M38.5 185 L39 185.4 L39.5 185.6 L40 185.3 L40.5 185.4 L41.1 185.6 L41.6 185.4 L42.1 185.4 L42.6 185.2 L43.1 185.2 L43.6 185.1 L44.1 185.2 L44.6 185.4 L45.1 185.7 L45.7 185.6 L46.2 185.6 L46.7 185.7 L47.2 185.5 L47.7 185.3 L47.7 98.3 L48.2 98.8 L48.7 98.7 L49.2 99.2 L49.7 99.1 L50.2 99.9 L50.7 99.5 L51.2 99.6 L51.7 99.9 L52.2 99.4 L52.7 99.7 L53.2 99.2 L53.7 98.6 L54.2 98.8 L54.6 98.9 L55.1 98.8 L55.6 97.9 L56.1 98 L56.6 98 L57.1 97.9 L57.6 97.8 L58.1 97.3 L58.6 97.3 L59.1 97.9 L59.6 98.3 L60.1 98 L60.6 97.6 L61.1 97.7 L61.6 97.9 L62.1 98.1 L62.6 97.6 L63.1 97.6 L63.6 97.7 L64.1 98.1 L64.6 98.3 L65.1 98.2 L65.6 98.4 L66.1 98.1 L66.6 98.4 L67.1 98.1 L67.6 98 L68 98.2 L68.5 97.8 L69 97.5 L69.5 97 L70 97.2 L70.5 97.2 L71 97.2 L71.5 97.4 L72 96.8 L72.5 97 L73 97.2 L73.5 97.2 L74 97.5 L74.5 97.5 L74.5 182.8 L75 183.8 L75.5 183.9 L76 183.8 L76.5 183.8 L77 184 L77.5 184.2 L78 184 L78.5 184.3 L79 184.1 L79.5 184.4 L80 184.5 L80.5 184.6 L81 185 L81.5 184.9 L82 184.7 L82.5 184.8 L83 185 L83.5 184.6 L84 184.7 L84.5 184.5 L85 184.7 L85.5 185 L86 185 L86.5 184.9 L87 184.9 L87.5 184.3 L88.1 184.6 L88.6 184.8 L89.1 184.9 L89.6 184.8 L90.1 184.7 L90.6 184.8 L91.1 185.1 L91.6 185.1 L92.1 185.4 L92.6 184.8 L93.1 184.8 L93.6 185 L94.1 185.1 L94.6 184.8 L95.1 184.8 L95.6 185.2 L96.1 185 L96.6 184.9 L97.1 184.8 L97.6 184.8 L98.1 185.2 L98.6 185.4 L99.1 185 L99.6 185.5 L100.1 185.4 L100.6 185.3 L100.6 98 L101.1 98.4 L101.6 98.3 L102.1 97.9 L102.6 97.7 L103.1 97.6 L103.6 97.4 L104.1 97.4 L104.6 97.8 L105.1 97.9 L105.6 97.5 L106.1 98.4 L106.6 98 L107.1 98 L107.5 98 L108 98.2 L108.5 98 L109 98.1 L109.5 98.6 L110 98.5 L110.5 98 L111 98 L111.5 97.8 L112 97.7 L112.5 97.8 L113 97.9 L113.5 97.8 L114 98 L114.5 97.9 L115 97.5 L115.5 97.8 L116 97.7 L116.5 98.1 L117 97.8 L117.5 97.9 L118 98 L118.5 97.1 L119 96.9 L119.5 96.8 L120 97.4 L120.5 96.9 L121 97.4 L121.5 97.8 L121.9 97.9 L122.4 98 L122.9 97.8 L123.4 97.8 L123.9 97.8 L124.4 97.9 L124.9 98 L125.4 97.9 L125.9 97.6 L126.4 97.4 L126.9 97.6 L127.4 97.1 L127.9 96.9 L128.4 97.6 L128.4 182.8 L128.9 183.1 L129.4 183.4 L129.9 183.6 L130.4 183.2 L130.9 183.4 L131.4 183.6 L131.9 183.9 L132.4 183.6 L132.9 183.7 L133.4 184 L133.9 184.2 L134.4 184.5 L134.9 184.8 L135.4 184.5 L135.9 184.6 L136.4 184.5 L136.9 184.4 L137.4 184.8 L137.9 184.6 L138.4 184.5 L138.9 184.4 L139.4 184.3 L139.9 184.7 L140.4 184.8 L140.9 185.1 L141.4 185.2 L141.9 185 L142.4 185.2 L142.9 185 L143.4 184.9 L143.9 184.9 L144.4 185 L144.9 185.3 L145.4 185.1 L145.9 185.2 L146.4 185.2 L146.9 184.9 L147.4 184.8 L147.9 184.8 L148.4 185.1 L148.9 185.2 L149.4 185.4 L149.9 185.4 L150.4 185.3 L150.9 185.4 L151.4 185.2 L151.9 185 L152.4 185.1 L152.9 184.9 L153.4 185 L153.9 185 L154.4 185 L154.4 98.8 L154.9 98.3 L155.4 98.2 L155.9 98.3 L156.4 98 L156.9 98.4 L157.4 98.3 L157.9 98.7 L158.4 98 L158.9 98.1 L159.4 98.5 L159.9 98 L160.4 98.1 L160.9 98.3 L161.4 98.4 L161.9 98 L162.4 98.2 L162.9 98.3 L163.4 98 L163.9 98.3 L164.4 98.2 L164.9 98.1 L165.4 98 L165.9 98.2 L166.4 98.2 L166.9 98.5 L167.4 98.6 L167.9 98.3 L168.5 98.2 L169 98.4 L169.5 98.3 L170 98.3 L170.5 98.4 L171 98.3 L171.5 97.6 L172 97.7 L172.5 97.9 L173 98 L173.5 97.8 L174 98.2 L174.5 98.1 L175 97.9 L175.5 97.8 L176 97.9 L176.5 97.6 L177 97.5 L177.5 98.2 L178 98.5 L178.5 98.7 L179 98.9 L179.5 98.9 L180 98.2 L180.5 98.5 L181 98.7 L181.5 98 L181.5 182.8 L182 183.1 L182.5 183 L183 183.7 L183.5 184.2 L184 184.1 L184.5 184.2 L185 184.4 L185.5 184.4 L186 184.6 L186.5 184.6 L187 184.7 L187.5 184.6 L188 184.3 L188.4 184.1 L188.9 184.9 L189.4 184.9 L189.9 185.1 L190.4 185.3 L190.9 185.5 L191.4 185.4 L191.9 185.1 L192.4 185 L192.9 184.5 L193.4 184.6 L193.9 184.8 L194.4 184.4 L194.9 184.5 L195.4 184.8 L195.9 185.2 L196.4 184.9 L196.9 184.8 L197.4 184.4 L197.9 184.4 L198.4 184.7 L198.9 185.3 L199.4 185 L199.9 185.3 L200.4 185.4 L200.9 185.3 L201.3 185.8 L201.8 185.1 L202.3 185.1 L202.8 185.3 L203.3 185.8 L203.8 186.1 L204.3 186.5 L204.8 186.2 L205.3 186.3 L205.8 186.4 L206.3 186.3 L206.8 186.2 L207.3 186 L207.8 185.9 L207.8 98.6 L208.3 98.8 L208.8 99.3 L209.3 98.9 L209.8 98.2 L210.3 98.4 L210.8 98.4 L211.3 98.5 L211.8 99 L212.3 98.8 L212.8 98.6 L213.3 98.4 L213.8 98.4 L214.3 98.2 L214.8 98.3 L215.3 99.2 L215.8 99.1 L216.3 98.7 L216.8 99.1 L217.3 99.2 L217.8 99.2 L218.3 99.2 L218.8 99.2 L219.3 99.1 L219.8 99.3 L220.3 99.3 L220.8 99.4 L221.3 99 L221.7 98.8 L222.2 98.4 L222.7 98.6 L223.2 98.7 L223.7 98.4 L224.2 98.5 L224.7 99.2 L225.2 99.2 L225.7 98.6 L226.2 98.4 L226.7 98.5 L227.2 98.4 L227.7 98.4 L228.2 98.6 L228.7 98.5 L229.2 98.1 L229.7 98.2 L230.2 98.1 L230.7 98.1 L231.2 97.9 L231.7 97.5 L232.2 97.2 L232.7 97.3 L233.2 97.1 L233.7 96.5 L234.2 97.1 L234.7 97 L235.2 97.8 L235.2 182.8 L235.7 183.4 L236.2 183.9 L236.7 183.5 L237.2 184 L237.7 183.9 L238.2 184.2 L238.7 184.1 L239.2 184.2 L239.7 184.3 L240.2 184.3 L240.7 183.9 L241.2 183.7 L241.7 183.9 L242.2 184.4 L242.7 184.3 L243.2 184.5 L243.7 184.6 L244.2 184.7 L244.7 184.9 L245.2 184.5 L245.7 184.6 L246.2 184.6 L246.7 184.6 L247.2 184.5 L247.7 184.4 L248.2 184.3 L248.8 184.2 L249.3 185 L249.8 185.3 L250.3 185.3 L250.8 185.4 L251.3 185.1 L251.8 184.5 L252.3 184.2 L252.8 184.5 L253.3 185 L253.8 185 L254.3 184.9 L254.8 184.9 L255.3 184.8 L255.8 184.6 L256.3 184.8 L256.8 184.8 L257.3 184.8 L257.8 184.8 L258.3 184.7 L258.8 185 L259.3 185.5 L259.8 185.4 L260.3 186 L260.8 185.5 L261.3 185.6 L261.3 98.2 L261.8 97.2 L262.3 97.4 L262.8 97.6 L263.3 97.9 L263.8 98.3 L264.3 98.1 L264.8 97.8 L265.3 97.8 L265.8 98 L266.3 97.8 L266.8 98.2 L267.3 98.6 L267.8 98.1 L268.3 98.2 L268.8 98.5 L269.3 97.8 L269.8 98 L270.3 97.9 L270.8 97.6 L271.3 98.1 L271.8 98.2 L272.3 98 L272.8 98.2 L273.3 98.3 L273.8 98.5 L274.3 98.6 L274.8 98.6 L275.2 98.1 L275.7 98 L276.2 98 L276.7 97.2 L277.2 98.1 L277.7 98 L278.2 97.7 L278.7 97.2 L279.2 97.5 L279.7 97.7 L280.2 97.6 L280.7 97.6 L281.2 97.4 L281.7 97.4 L282.2 97.5 L282.7 97.5 L283.2 97.8 L283.7 97.8 L284.2 97.9 L284.7 98 L285.2 98.4 L285.7 98.5 L286.2 98.4 L286.7 98.3 L287.2 98 L287.7 97.9 L288.2 98 L288.2 182.8 L288.7 183.6 L289.2 184 L289.7 184.1 L290.2 183.9 L290.7 183.7 L291.2 184 L291.6 184.4 L292.1 184.6 L292.6 184.3 L293.1 184.4 L293.6 184.6 L294.1 184.5 L294.6 184.7 L295.1 184.7 L295.6 184.7 L296.1 184.5 L296.6 184.9 L297.1 185.1 L297.5 185 L298 184.9 L298.5 185.2 L299 185.5 L299.5 185.4 L300 185.9 L300.5 185.8" stroke="#ff00ff"/>
<path d="M38.5 182 L39 181.8 L39.5 182.1 L40 182.1 L40.5 182.2 L41 182.2 L41.5 182 L42 181.8 L42.5 181.9 L43 182.3 L43.6 182.1 L44.1 182.4 L44.6 182.4 L45.1 182.2 L45.6 182.3 L46.1 182.4 L46.6 182.3 L47.1 181.9 L47.6 182.1 L47.6 86.5 L48.1 86.1 L48.6 86.3 L49.1 85.7 L49.6 85.7 L50.1 85.6 L50.6 85.2 L51.1 85.3 L51.6 85.5 L52.1 85.4 L52.6 85.1 L53.1 85.3 L53.6 84.9 L54.1 85.2 L54.6 85.4 L55.1 85.9 L55.6 86 L56.1 85.9 L56.6 85.8 L57.1 85.7 L57.6 85.2 L58.1 85.6 L58.6 85.6 L59.1 85.3 L59.6 84.9 L60.1 85.3 L60.6 85.3 L61.1 84.8 L61.6 85 L62.1 85.4 L62.6 85.2 L63.1 85.1 L63.6 84.8 L64.1 84.5 L64.6 84.8 L65.1 85.5 L65.6 85.2 L66.1 84.9 L66.6 84.9 L67.1 84.6 L67.6 84.6 L68.1 84.7 L68.6 84.2 L69.1 83.7 L69.6 83.7 L70.1 83.9 L70.6 83.9 L71.1 84.2 L71.6 83.6 L72.1 83.7 L72.6 83.4 L73.1 83.4 L73.6 83.4 L74.1 83.3 L74.1 180 L74.5 180 L75 180.3 L75.5 180.3 L76 180.6 L76.5 180.6 L77 180.6 L77.5 180.8 L78 180.8 L78.5 181.2 L79 181.1 L79.5 181.3 L80 181.4 L80.5 181.2 L81 181.2 L81.5 181.2 L82 181.2 L82.5 181.3 L83 181.7 L83.5 181.6 L84 182 L84.5 182 L85 181.7 L85.5 181.3 L86 181.6 L86.5 181.3 L87 181.6 L87.5 181.9 L88 182 L88.5 182 L89 182 L89.5 182.1 L90 182.1 L90.5 182 L91 182 L91.5 182.3 L92 182.2 L92.5 182.4 L93 182.2 L93.5 182.1 L94 182 L94.5 182.1 L95 182.4 L95.5 182.5 L96 182.5 L96.5 182.7 L97 182.7 L97.5 182.8 L98 182.9 L98.5 183 L99 182.5 L99.5 182.4 L100 182.7 L100.5 182.8 L100.5 86.5 L101 87.1 L101.5 86.8 L102 86.5 L102.5 86.8 L103 86.8 L103.5 87.1 L104 87 L104.5 86.6 L105 86.6 L105.5 86.2 L106 85.9 L106.5 85.7 L107 85.6 L107.5 85.8 L108 85.6 L108.5 85.6 L109 85.4 L109.5 85.6 L110 84.7 L110.5 84.8 L111 84.9 L111.5 84.6 L112 85 L112.5 85.1 L113 85.4 L113.5 85.5 L114 85.5 L114.5 85.3 L115 84.8 L115.5 84.7 L116 84.5 L116.5 84.6 L117 84.4 L117.5 85.3 L118 84.6 L118.5 84.8 L119 84.5 L119.5 84.3 L120 84.5 L120.5 84.4 L121 83.9 L121.5 84 L122 83.9 L122.5 83.3 L123 83.5 L123.5 83.2 L124 83.1 L124.5 83.3 L125 83.5 L125.5 83.4 L126 84 L126.5 83.9 L127 83.6 L127.5 83.6 L128 83.3 L128 180 L128.4 180.2 L128.9 180.1 L129.4 180.1 L129.9 180.1 L130.4 180.8 L130.9 180.8 L131.4 180.9 L131.9 180.9 L132.4 181.2 L132.9 181.2 L133.4 181.6 L133.9 181.7 L134.4 182 L134.9 181.8 L135.4 181.8 L135.9 181.7 L136.4 181.6 L136.9 181.3 L137.4 181.3 L137.9 181.2 L138.4 181.2 L138.9 181.6 L139.4 181.7 L139.9 182 L140.4 182.2 L140.9 182.3 L141.4 182.4 L141.9 182.2 L142.4 182.4 L142.9 182.2 L143.4 182.1 L143.9 182.4 L144.4 182.8 L144.9 182.5 L145.4 182.8 L145.8 182.9 L146.3 182.6 L146.8 182.6 L147.3 182.7 L147.8 182.7 L148.3 182.6 L148.8 182.4 L149.3 182.5 L149.8 182.7 L150.3 182.9 L150.8 183 L151.3 183.2 L151.8 182.9 L152.3 182.9 L152.8 183 L153.3 183.2 L153.8 183.2 L154.3 183.3 L154.3 86.5 L154.8 86.6 L155.3 87.1 L155.8 86.3 L156.3 86.2 L156.8 86.9 L157.3 86.7 L157.8 86 L158.3 86 L158.8 85.5 L159.3 85.4 L159.7 85.5 L160.2 86 L160.7 86 L161.2 86.1 L161.7 86.2 L162.2 86.1 L162.7 85.6 L163.2 85.5 L163.7 85.5 L164.2 85.4 L164.7 85.1 L165.2 85 L165.7 84.5 L166.2 84.3 L166.7 84.4 L167.2 84.4 L167.7 84.5 L168.2 84.9 L168.7 84.9 L169.2 84.8 L169.7 84.4 L170.2 84.1 L170.6 84.3 L171.1 84 L171.6 84.2 L172.1 83.9 L172.6 84 L173.1 84 L173.6 84.3 L174.1 84.1 L174.6 83.9 L175.1 84 L175.6 83.9 L176.1 84.4 L176.6 84.1 L177.1 83.8 L177.6 83.7 L178.1 83.8 L178.6 83.7 L179.1 83.8 L179.6 83.3 L180.1 84 L180.6 84.3 L181.1 83.3 L181.1 180 L181.6 180.6 L182.1 180.6 L182.6 180.8 L183.1 181 L183.6 180.6 L184.1 180.7 L184.6 180.6 L185.1 180.8 L185.6 181.2 L186.1 181.4 L186.6 181.1 L187.1 181.5 L187.6 181.6 L188.1 181.5 L188.6 181.6 L189.1 181.9 L189.6 181.8 L190.1 181.8 L190.6 181.6 L191.1 181.9 L191.6 181.5 L192.1 181.8 L192.6 181.6 L193.1 181.9 L193.6 181.6 L194.1 181.5 L194.6 181.5 L195.1 181.8 L195.6 181.6 L196.1 181.9 L196.6 181.8 L197.1 182.2 L197.6 182.1 L198.1 182.3 L198.6 182.3 L199.2 182.7 L199.7 182.5 L200.2 182.5 L200.7 182.9 L201.2 182.8 L201.7 182.9 L202.2 182.7 L202.7 182.8 L203.2 182.3 L203.7 182.5 L204.2 182.4 L204.7 182.3 L205.2 182.1 L205.7 182.6 L206.2 182.8 L206.7 182.5 L207.2 183 L207.7 182.9 L207.7 86.5 L208.2 87.1 L208.7 86.9 L209.2 86.4 L209.7 85.9 L210.2 85.7 L210.7 86.1 L211.2 86.3 L211.7 85.7 L212.2 86.1 L212.7 86 L213.2 86.1 L213.7 86 L214.2 86 L214.7 85.6 L215.2 85.3 L215.7 85.1 L216.2 85.1 L216.7 85.3 L217.2 84.9 L217.7 85.4 L218.2 85.2 L218.7 85 L219.2 85.2 L219.7 85.2 L220.2 85 L220.7 84.7 L221.2 84.4 L221.7 84 L222.2 84.5 L222.7 84.8 L223.2 85.3 L223.7 85.2 L224.2 85.1 L224.7 85.1 L225.2 85.2 L225.7 84.8 L226.2 84.8 L226.7 85.2 L227.2 84.4 L227.7 83.9 L228.2 83.6 L228.7 83.9 L229.2 84.2 L229.7 84 L230.2 84.1 L230.7 84 L231.2 83.9 L231.7 83.7 L232.2 83.6 L232.7 83.5 L233.2 83.8 L233.7 84.3 L234.2 83.5 L234.8 83.3 L234.8 180 L235.2 180.5 L235.7 180.7 L236.2 181 L236.7 181.3 L237.2 181.4 L237.7 181.5 L238.2 181.2 L238.7 180.9 L239.2 181.3 L239.7 181.6 L240.2 181.3 L240.7 181.6 L241.2 181.7 L241.7 181.2 L242.2 181.4 L242.7 181.3 L243.2 181.6 L243.7 181.5 L244.2 181.4 L244.7 181.2 L245.2 181.3 L245.7 181.6 L246.2 181.6 L246.7 181.3 L247.2 181.9 L247.7 182.3 L248.2 182.3 L248.7 182.2 L249.2 181.9 L249.7 181.7 L250.2 181.9 L250.7 182.2 L251.2 182.1 L251.7 182.1 L252.2 182.1 L252.7 182.2 L253.2 182.3 L253.7 182.8 L254.2 182.6 L254.7 182.8 L255.2 182.9 L255.7 182.8 L256.2 182.8 L256.7 182.5 L257.2 182.8 L257.7 182.7 L258.2 182.6 L258.7 182.7 L259.2 182.6 L259.7 182.5 L260.2 182.6 L260.7 183 L261.2 183 L261.2 86.5 L261.7 86.7 L262.2 86.2 L262.7 85.6 L263.2 86.2 L263.7 86.1 L264.2 85.6 L264.7 85.6 L265.2 85.9 L265.7 85.3 L266.2 85.2 L266.7 85.4 L267.2 85.2 L267.7 85.5 L268.2 85.8 L268.7 85.8 L269.2 85.6 L269.7 85.5 L270.2 85.2 L270.7 85.2 L271.2 85.3 L271.7 85.1 L272.2 85.4 L272.7 86 L273.2 85.6 L273.7 85.5 L274.2 85.5 L274.7 85.5 L275.2 85.2 L275.7 84.9 L276.2 85.1 L276.7 85.1 L277.2 85.1 L277.7 84.7 L278.2 84.7 L278.7 84.8 L279.2 84.6 L279.7 84.7 L280.2 85.1 L280.7 84.3 L281.2 84.4 L281.7 83.9 L282.2 83.5 L282.7 83.5 L283.2 83.7 L283.7 83.7 L284.2 85 L284.7 82.9 L285.2 82.9 L285.7 83 L286.2 82.8 L286.7 82.5 L287.2 79.5 L287.8 83.3 L287.8 180 L288.2 180.3 L288.7 180.6 L289.2 180.7 L289.7 180.8 L290.2 181 L290.7 181.1 L291.2 181.3 L291.7 181.2 L292.2 181.1 L292.7 181.7 L293.1 181.7 L293.6 182 L294.1 182.2 L294.6 182.3 L295.1 182.3 L295.6 182.1 L296.1 181.9 L296.6 182.2 L297.1 182.5 L297.6 182.6 L298 182.4 L298.5 182.1 L299 182.1 L299.5 182.1 L300 182.4 L300.5 182.4" stroke="#808000"/>
</g>
<g class="ax">
<line x1="38" y1="208.3" x2="42.2" y2="208.3"/>
<line x1="38" y1="199.8" x2="40.6" y2="199.8"/>
<line x1="38" y1="191.2" x2="42.2" y2="191.2"/>
<line x1="38" y1="182.7" x2="40.6" y2="182.7"/>
<line x1="38" y1="174.1" x2="42.2" y2="174.1"/>
<line x1="38" y1="165.6" x2="40.6" y2="165.6"/>
<line x1="38" y1="157.1" x2="42.2" y2="157.1"/>
<line x1="38" y1="148.5" x2="40.6" y2="148.5"/>
<line x1="38" y1="140" x2="42.2" y2="140"/>
<line x1="38" y1="131.4" x2="40.6" y2="131.4"/>
<line x1="38" y1="122.9" x2="42.2" y2="122.9"/>
<line x1="38" y1="114.4" x2="40.6" y2="114.4"/>
<line x1="38" y1="105.8" x2="42.2" y2="105.8"/>
<line x1="38" y1="97.3" x2="40.6" y2="97.3"/>
<line x1="38" y1="88.7" x2="42.2" y2="88.7"/>
<line x1="38" y1="80.2" x2="40.6" y2="80.2"/>
<line x1="38" y1="71.6" x2="42.2" y2="71.6"/>
<line x1="38" y1="63.1" x2="40.6" y2="63.1"/>
<line x1="38" y1="54.6" x2="42.2" y2="54.6"/>
<line x1="38" y1="46" x2="40.6" y2="46"/>
<line x1="38" y1="37.5" x2="42.2" y2="37.5"/>
<line x1="38" y1="28.9" x2="40.6" y2="28.9"/>
<line x1="38" y1="20.4" x2="42.2" y2="20.4"/>
<line x1="52.4" y1="208.3" x2="52.4" y2="204.7"/>
<line x1="87.9" y1="208.3" x2="87.9" y2="204.7"/>
<line x1="123.5" y1="208.3" x2="123.5" y2="204.7"/>
<line x1="159" y1="208.3" x2="159" y2="204.7"/>
<line x1="194.6" y1="208.3" x2="194.6" y2="204.7"/>
<line x1="230.1" y1="208.3" x2="230.1" y2="204.7"/>
<line x1="265.6" y1="208.3" x2="265.6" y2="204.7"/>
<line x1="301.2" y1="208.3" x2="301.2" y2="204.7"/>
</g>
<rect x="38" y="20.2" width="263.4" height="188.5" fill="none" stroke="#000" stroke-width="2"/>
<g class="tk">
<text x="33.9" y="211" text-anchor="end">0</text>
<text x="33.9" y="193.9" text-anchor="end">1</text>
<text x="33.9" y="176.8" text-anchor="end">2</text>
<text x="33.9" y="159.8" text-anchor="end">3</text>
<text x="33.9" y="142.7" text-anchor="end">4</text>
<text x="33.9" y="125.6" text-anchor="end">5</text>
<text x="33.9" y="108.5" text-anchor="end">6</text>
<text x="33.9" y="91.4" text-anchor="end">7</text>
<text x="33.9" y="74.3" text-anchor="end">8</text>
<text x="33.9" y="57.3" text-anchor="end">9</text>
<text x="33.9" y="40.2" text-anchor="end">10</text>
<text x="33.9" y="23.1" text-anchor="end">11</text>
<text x="52.4" y="220.4" text-anchor="middle">40</text>
<text x="87.9" y="220.4" text-anchor="middle">60</text>
<text x="123.5" y="220.4" text-anchor="middle">80</text>
<text x="159" y="220.4" text-anchor="middle">100</text>
<text x="194.6" y="220.4" text-anchor="middle">120</text>
<text x="230.1" y="220.4" text-anchor="middle">140</text>
<text x="265.6" y="220.4" text-anchor="middle">160</text>
<text x="301.2" y="220.4" text-anchor="middle">180</text>
</g>
<line x1="48.8" y1="33.7" x2="66.9" y2="33.7" stroke="#000000" stroke-width="1.3"/>
<text x="69.2" y="36.7" class="lg">1mW/cm<tspan class="sup" dy="-6.2">2</tspan></text>
<line x1="117.4" y1="33.7" x2="134.5" y2="33.7" stroke="#c81c1c" stroke-width="1.3"/>
<text x="137.4" y="36.7" class="lg">3mW/cm<tspan class="sup" dy="-6.2">2</tspan></text>
<line x1="186" y1="33.7" x2="205" y2="33.7" stroke="#20e020" stroke-width="1.3"/>
<text x="209.4" y="36.7" class="lg">5mW/cm<tspan class="sup" dy="-6.2">2</tspan></text>
<line x1="48.5" y1="48.9" x2="66.4" y2="48.9" stroke="#2020f0" stroke-width="1.3"/>
<text x="69.1" y="51.9" class="lg">7mW/cm<tspan class="sup" dy="-6.2">2</tspan></text>
<line x1="115.3" y1="48.9" x2="133.1" y2="48.9" stroke="#00ffff" stroke-width="1.3"/>
<text x="135.6" y="51.9" class="lg">10mW/cm<tspan class="sup" dy="-6.2">2</tspan></text>
<line x1="187.6" y1="48.9" x2="205.5" y2="48.9" stroke="#ff00ff" stroke-width="1.3"/>
<text x="208.2" y="51.9" class="lg">13mW/cm<tspan class="sup" dy="-6.2">2</tspan></text>
<line x1="48.5" y1="64.6" x2="66.4" y2="64.6" stroke="#86862a" stroke-width="1.3"/>
<text x="68.9" y="67.6" class="lg">15mW/cm<tspan class="sup" dy="-6.2">2</tspan></text>
<text class="lb" x="131.6" y="71.8">(<tspan font-style="italic">l</tspan>00) Cs<tspan class="sub" dy="4.1" dx="0.2">3</tspan><tspan dy="-4.1" dx="0.3">Bi</tspan><tspan class="sub" dy="4.1" dx="0.2">2</tspan><tspan dy="-4.1" dx="0.3">I</tspan><tspan class="sub" dy="4.1" dx="0.2">9</tspan><tspan dy="-4.1" dx="0.3"> SC</tspan></text>
<text class="lb" x="224.3" y="71.8">(525nm)</text>
<text class="ttl" x="167.5" y="233.3" text-anchor="middle">Time (s)</text>
<text class="ttl" transform="translate(20.7 106.7) rotate(-90)" text-anchor="middle" style="font-size:13.7px">Current (nA)</text>
<text class="pl" x="0.2" y="16.9">(a)</text>

<!-- panel b -->
<g class="curves">
<path d="M343.5 193 L344 193.6 L344.5 193.2 L345 193 L345.5 193.3 L346 193.4 L346.5 193 L347 193.3 L347.5 194 L348 193.3 L348.5 193.2 L349 192.7 L349.5 192.1 L349.9 192.6 L350.4 193 L350.9 193.4 L351.4 193.5 L351.9 192.6 L352.4 192.8 L352.9 192.6 L353.4 192.3 L353.9 192.1 L354.4 192.7 L354.9 192.7 L355.4 193.6 L355.9 193.7 L355.9 181.5 L356.4 180.6 L356.9 181.3 L357.4 181.7 L357.9 181.3 L358.4 180.6 L358.9 181.5 L359.4 180.6 L359.9 180.7 L360.4 180 L360.9 180 L361.4 179.7 L361.9 180.7 L362.4 181.2 L363 180.7 L363.5 180.1 L364 180.4 L364.5 180.6 L365 179.9 L365.5 179.8 L366 180.2 L366.5 180.6 L367 180.5 L367.5 180.6 L368 180 L368.5 179.2 L369 180 L369.5 179.8 L370 180 L370.5 180 L371 180.3 L371.5 179.9 L372 180.6 L372.5 180.3 L373 180.4 L373.5 180.4 L374 180.6 L374.5 180.4 L375 179.4 L375.5 179.5 L376.1 180.5 L376.6 180.3 L377.1 180.3 L377.6 180.2 L378.1 179.7 L378.6 179.5 L379.1 179.4 L379.6 180.1 L380.1 180 L380.6 180.5 L381.1 180.2 L381.6 180.6 L382.1 180.2 L382.6 179.6 L382.6 189.8 L383.1 190.5 L383.6 191.8 L384.1 192.3 L384.6 192.9 L385.1 193 L385.6 192.9 L386.1 193 L386.6 192.6 L387.1 192.3 L387.6 192.1 L388.1 192.2 L388.6 191.9 L389.1 192.2 L389.5 192.5 L390 193.5 L390.5 194.1 L391 193.9 L391.5 194.1 L392 195.5 L392.5 193.8 L393 193.7 L393.5 193.4 L394 193.4 L394.5 192.9 L395 193.2 L395.5 193.1 L396 192.8 L396.5 192.8 L397 193.2 L397.5 193 L398 193.4 L398.5 193.6 L399 196.8 L399.5 193.7 L400 193.6 L400.5 193.8 L401 194.4 L401.5 194.3 L402 194.5 L402.4 193.7 L402.9 193.5 L403.4 194.2 L403.9 194 L404.4 194.8 L404.9 194.3 L405.4 194.1 L405.9 193.4 L406.4 193.8 L406.9 194 L407.4 194.8 L407.9 194.6 L408.4 194.4 L408.9 193.8 L408.9 179.5 L409.4 179.6 L409.9 179.8 L410.4 179.8 L410.9 179.9 L411.4 179.8 L411.9 179.4 L412.4 179.5 L412.9 179.4 L413.4 178.7 L413.9 179.7 L414.4 179.5 L414.9 178.9 L415.4 179.2 L415.9 179.3 L416.4 179.6 L416.9 179.9 L417.4 178.2 L417.9 179 L418.4 179.7 L418.9 179 L419.4 178.4 L419.9 179 L420.4 179.3 L420.9 179.4 L421.4 178.8 L421.9 178.9 L422.4 179.2 L423 179.5 L423.5 180.3 L424 179.8 L424.5 179.3 L425 178.3 L425.5 179.4 L426 179.3 L426.5 179.3 L427 178.9 L427.5 179.5 L428 178.7 L428.5 179.1 L429 179.3 L429.5 179.5 L430 180 L430.5 179.6 L431 179.5 L431.5 179.8 L432 179 L432.5 179.1 L433 179.3 L433.5 179.8 L434 179.3 L434.5 179.7 L435 179.7 L435.5 179 L436 179.5 L436 189.8 L436.5 189.9 L437 190.1 L437.5 192.5 L438 191.5 L438.5 192.2 L439 192.7 L439.5 192.6 L440 193.1 L440.5 193.5 L441 193.6 L441.5 193.6 L442 193 L442.5 193.2 L443 192.8 L443.5 192.4 L444 192.5 L444.5 192.7 L445 192.9 L445.5 192.8 L446 192.6 L446.5 192.8 L447 192.7 L447.5 192.3 L448 192.6 L448.5 193.4 L449.1 193.3 L449.6 192.9 L450.1 193.6 L450.6 194.3 L451.1 194 L451.6 193.8 L452.1 193.8 L452.6 195 L453.1 194.7 L453.6 194.8 L454.1 194.7 L454.6 193.8 L455.1 193.3 L455.6 193 L456.1 193.3 L456.6 193.5 L457.1 194.3 L457.6 194.1 L458.1 194.2 L458.6 194.1 L459.1 194.1 L459.6 195 L460.1 194.9 L460.6 195.2 L461.1 195.5 L461.6 194.9 L461.6 180 L462.1 180 L462.6 179.7 L463.1 179.7 L463.6 179.8 L464.1 179.7 L464.6 179.4 L465.1 180.2 L465.6 179.7 L466.1 179.9 L466.6 180.4 L467.1 180.1 L467.6 180.2 L468.1 180.4 L468.5 180.3 L469 180.5 L469.5 179.3 L470 180.2 L470.5 179.8 L471 178.9 L471.5 179 L472 178.7 L472.5 179.2 L473 178.8 L473.5 178.8 L474 179.3 L474.5 179.5 L475 179.2 L475.5 179.3 L476 179.4 L476.5 179.5 L477 179.5 L477.5 179.4 L478 179.8 L478.5 179 L479 179.1 L479.5 179.4 L480 179.3 L480.5 179.2 L481 179.2 L481.5 179.5 L482 180 L482.4 179.6 L482.9 179.4 L483.4 179.6 L483.9 179.4 L484.4 178.7 L484.9 179.3 L485.4 179.3 L485.9 179.2 L486.4 179.6 L486.9 179.6 L487.4 179.3 L487.9 178.5 L488.4 178.4 L488.9 179.5 L488.9 189.8 L489.4 191.3 L489.9 191.7 L490.4 192.2 L490.9 192.5 L491.4 192.4 L491.9 192.1 L492.4 191.9 L492.9 192.1 L493.4 191.9 L493.9 192.5 L494.4 192.2 L494.9 191.7 L495.3 192 L495.8 191.6 L496.3 192.6 L496.8 192.4 L497.3 192.6 L497.8 192.7 L498.3 192.5 L498.8 192 L499.3 191.6 L499.8 192.4 L500.3 193.1 L500.8 194 L501.3 193.3 L501.8 193.6 L502.3 193.5 L502.8 193.9 L503.3 193.6 L503.8 193.9 L504.3 194.2 L504.8 197 L505.3 194.7 L505.8 194.4 L506.3 194.8 L506.8 194.3 L507.3 194.8 L507.8 193.4 L508.2 193.5 L508.7 193.3 L509.2 193.4 L509.7 193.9 L510.2 194.2 L510.7 194.2 L511.2 194.8 L511.7 194 L512.2 193.7 L512.7 194.3 L513.2 194.4 L513.7 193.5 L514.2 193.8 L514.2 180 L514.7 179 L515.2 180.1 L515.7 180.3 L516.2 179.7 L516.7 180.2 L517.2 179.6 L517.7 180 L518.2 180 L518.7 179.7 L519.2 179.1 L519.7 179.3 L520.2 178.6 L520.7 179 L521.2 178.6 L521.7 179.7 L522.2 179.3 L522.7 178.5 L523.2 179.5 L523.7 179.7 L524.2 179.5 L524.7 180.5 L525.2 180.3 L525.7 180 L526.2 179.6 L526.7 178.5 L527.2 179.4 L527.7 180 L528.2 179.6 L528.7 179.1 L529.2 179.5 L529.7 179 L530.2 179.5 L530.7 180 L531.2 180.5 L531.7 180.2 L532.2 180.1 L532.7 180.2 L533.2 180.6 L533.7 180 L534.2 179.4 L534.7 179.4 L535.2 183 L535.7 179.2 L536.2 179.6 L536.7 179.9 L537.2 180 L537.7 180 L538.2 179.8 L538.7 183.5 L539.2 180.4 L539.7 180.5 L540.2 180.8 L540.7 180.2 L541.2 180 L541.2 189.8 L541.7 190.4 L542.2 191.7 L542.7 192.1 L543.2 192.5 L543.7 192.5 L544.2 193 L544.7 192.9 L545.2 192.5 L545.7 192.6 L546.2 192.6 L546.7 193.1 L547.2 192.9 L547.7 193 L548.2 193 L548.7 193.2 L549.2 192.9 L549.7 193.5 L550.2 192.9 L550.7 192.8 L551.2 192.7 L551.7 193.1 L552.2 193.2 L552.7 193.4 L553.2 193.3 L553.7 193 L554.2 192.7 L554.7 192.8 L555.2 192.7 L555.7 193.1 L556.2 193.3 L556.7 193.8 L557.2 193.7 L557.7 193.4 L558.2 193 L558.7 193.2 L559.2 193.5 L559.7 194.3 L560.2 194.2 L560.7 194.8 L561.2 195.3 L561.7 194.5 L562.2 194.8 L562.7 195 L563.2 195.3 L563.7 194.9 L564.2 195.1 L564.7 194.6 L565.2 194.4 L565.7 194.3 L566.2 195 L566.7 194.6 L567.2 194.9 L567.2 180 L567.7 180 L568.2 179.6 L568.7 179.8 L569.2 180 L569.7 179.5 L570.2 179.8 L570.7 179.4 L571.2 179.1 L571.7 179.5 L572.2 179.4 L572.7 179.1 L573.2 178.7 L573.7 179.2 L574.2 179.5 L574.7 179.3 L575.2 179.5 L575.7 178.9 L576.2 179.4 L576.7 179.6 L577.2 179.7 L577.7 179.3 L578.2 179.5 L578.7 179.5 L579.2 180 L579.7 179.8 L580.2 179.7 L580.6 179.3 L581.1 179.8 L581.6 180.1 L582.1 179.5 L582.6 179.8 L583.1 179.7 L583.6 179.6 L584.1 179 L584.6 180 L585.1 182 L585.6 179.4 L586.1 179.3 L586.6 179.9 L587.1 179.5 L587.6 179.5 L588.1 183 L588.6 179.8 L589.1 179.4 L589.6 179.7 L590.1 179.8 L590.6 180 L591.1 179.5 L591.6 179.5 L592.1 179.3 L592.6 179.1 L593.1 179.4 L593.6 179.6 L594.1 179.5 L594.1 189.8 L594.6 191.9 L595.1 192.1 L595.6 192.5 L596.1 193.1 L596.6 193.1 L597.1 193.2 L597.6 193.3 L598.1 193 L598.6 192.8 L599.1 193.4 L599.6 193.5 L600 193.5 L600.5 193 L601 193.2 L601.5 193.8 L602 193.4 L602.5 193.1 L603 193.8 L603.5 194.4 L604 194.9 L604.5 194.5 L605 194.6 L605.5 194.2" stroke="#000000"/>
<path d="M343.5 193 L344 193.2 L344.5 193 L345 193.1 L345.5 193.5 L346 193.5 L346.5 193.3 L346.9 193.3 L347.4 193.3 L347.9 193.1 L348.4 193.2 L348.9 193.3 L349.4 193.8 L349.9 192.9 L350.4 192.6 L350.9 192.3 L351.4 192.8 L351.9 193.7 L352.4 193.6 L352.9 193.5 L353.4 193.8 L353.9 192.9 L354.3 192.9 L354.8 191.9 L355.3 192.3 L355.8 192.4 L356.3 192.4 L356.8 192.7 L357.3 192.7 L357.3 175.5 L357.8 175.6 L358.3 175.4 L358.8 175.4 L359.3 175.9 L359.8 175.5 L360.3 175.6 L360.8 175.1 L361.3 175.4 L361.8 175.5 L362.3 175.3 L362.8 175.5 L363.3 175.7 L363.8 175.9 L364.2 175.6 L364.7 175.4 L365.2 175.6 L365.7 175 L366.2 174.8 L366.7 175 L367.2 175.1 L367.7 175.5 L368.2 175.8 L368.7 175.7 L369.2 175.6 L369.7 175.1 L370.2 175 L370.7 175.1 L371.2 175 L371.7 175 L372.2 175.2 L372.7 174.9 L373.2 174.9 L373.7 174.6 L374.2 175.3 L374.7 175.2 L375.2 175 L375.7 175.5 L376.2 175.7 L376.7 176.2 L377.1 176.3 L377.6 177 L378.1 177.2 L378.6 177.3 L379.1 177.3 L379.6 177.4 L380.1 177.7 L380.6 178.3 L381.1 178.2 L381.6 178 L382.1 178.3 L382.6 178.8 L383.1 178.5 L383.1 188.4 L383.6 188.5 L384.1 189.2 L384.6 189.6 L385.1 190.4 L385.6 191 L386.1 191.1 L386.6 191 L387.1 191.5 L387.6 191 L388.1 191.5 L388.6 191.6 L389.1 192.4 L389.6 192.7 L390.2 192.4 L390.7 192.3 L391.2 192.2 L391.7 192 L392.2 192.1 L392.7 192.5 L393.2 192 L393.7 192 L394.2 192.6 L394.7 192.8 L395.2 192.4 L395.7 192.2 L396.2 192 L396.7 191.6 L397.2 192.2 L397.7 192.3 L398.2 192.1 L398.7 191.8 L399.2 191.9 L399.7 191.9 L400.2 192.6 L400.7 192.5 L401.2 192.6 L401.7 193 L402.2 193.1 L402.7 193 L403.2 192.2 L403.8 192.8 L404.3 193 L404.8 192.8 L405.3 192.8 L405.8 192.5 L406.3 192.3 L406.8 192 L407.3 192.4 L407.8 192.7 L408.3 192.8 L408.8 193.1 L409.3 193.3 L409.8 193.3 L410.3 192.9 L410.3 175 L410.8 175.5 L411.3 175.6 L411.8 175.6 L412.3 175.8 L412.8 175.5 L413.3 175.1 L413.8 175.4 L414.3 175.2 L414.8 175.2 L415.3 175.2 L415.8 175.2 L416.3 175.2 L416.9 175.1 L417.4 174.7 L417.9 175.4 L418.4 175.4 L418.9 175 L419.4 174.9 L419.9 174.8 L420.4 174.8 L420.9 174.4 L421.4 174.9 L421.9 175.5 L422.4 175.5 L422.9 175.8 L423.4 176 L423.9 175.7 L424.4 176.1 L424.9 175.6 L425.4 175.6 L425.9 175.7 L426.4 176.1 L426.9 176.2 L427.4 176.2 L427.9 176 L428.4 176.1 L428.9 176.2 L429.4 176.5 L429.9 176.9 L430.5 177 L431 176.9 L431.5 176.8 L432 177.2 L432.5 177.1 L433 177.1 L433.5 177.5 L434 177.7 L434.5 177.7 L435 177.5 L435.5 177.2 L436 177.5 L436.5 177 L436.5 188.4 L437 189.2 L437.5 190.2 L438 190.5 L438.5 190.9 L439 191.3 L439.5 191.6 L440 191.8 L440.5 192 L441 191.7 L441.5 191.5 L442 191.6 L442.5 192.3 L443 192.3 L443.5 192 L444 191.8 L444.5 192 L445 192.4 L445.5 192.2 L446 192.4 L446.5 192.5 L447 192.3 L447.5 192.1 L448 192.1 L448.5 192 L449 192.3 L449.5 191.8 L450 192.3 L450.5 192.6 L451 192.8 L451.5 193.2 L452 193.3 L452.5 192.6 L453 192.6 L453.5 192.8 L454 192.5 L454.5 192.2 L455 192.5 L455.5 192.7 L456 192.6 L456.5 192.6 L457 192.5 L457.5 192.4 L458 192.5 L458.5 192.9 L459 192.4 L459.5 192.4 L460 193.1 L460.5 193.1 L461 193.2 L461.5 193.4 L462 193 L462.5 192.6 L463 192.2 L463 178 L463.5 177.8 L464 177.8 L464.5 177.9 L465 177.6 L465.5 177.3 L466 177.3 L466.5 177.4 L467 177.3 L467.5 176.7 L468 176.6 L468.5 176 L469 176.2 L469.5 176.1 L470 176.1 L470.5 176.6 L471 176.9 L471.5 176.9 L472 176.8 L472.5 176.7 L473 176.5 L473.5 176.4 L474 176.8 L474.5 176.4 L475 176.1 L475.5 176.1 L476 176.3 L476.4 176.4 L476.9 176 L477.4 175.9 L477.9 175.8 L478.4 175.4 L478.9 175.5 L479.4 175.4 L479.9 175.6 L480.4 175.7 L480.9 175.4 L481.4 175.4 L481.9 175.3 L482.4 175.1 L482.9 175 L483.4 175.3 L483.9 175.1 L484.4 174.6 L484.9 174.5 L485.4 174.8 L485.9 175.4 L486.4 174.9 L486.9 174.8 L487.4 174.7 L487.9 174.3 L488.4 174.5 L488.9 174.5 L489.4 174.6 L489.4 188.4 L489.9 188.8 L490.4 190.4 L490.9 190.8 L491.4 191.4 L491.9 191.8 L492.4 191.7 L492.9 191.6 L493.4 192.3 L493.9 192.5 L494.4 192.4 L494.9 192 L495.4 192.4 L496 192.5 L496.5 193.2 L497 193.4 L497.5 193.4 L498 193.2 L498.5 193 L499 192.7 L499.5 192.7 L500 192.7 L500.5 192.8 L501 193.1 L501.5 193 L502 192.7 L502.5 192.9 L503 193.3 L503.5 192.9 L504 192.9 L504.5 193 L505 193.1 L505.5 193.1 L506 193 L506.5 192.9 L507 193.4 L507.5 193.8 L508 193.1 L508.5 192.2 L509.1 192.5 L509.6 192.3 L510.1 192.3 L510.6 191.9 L511.1 192.3 L511.6 192.4 L512.1 192.4 L512.6 192.8 L513.1 193.6 L513.6 193.9 L514.1 194.1 L514.6 193.7 L515.1 193.7 L515.6 193.6 L515.6 176 L516.1 176 L516.6 176 L517.1 175.8 L517.6 175.8 L518.1 175.5 L518.6 175.7 L519.1 176 L519.6 175.7 L520.1 175.8 L520.6 175.3 L521.1 175.5 L521.6 175.7 L522.1 175.4 L522.6 175.8 L523.1 175.8 L523.6 175.2 L524.1 174.9 L524.6 175.3 L525.1 175.3 L525.6 175.6 L526.1 175.2 L526.6 175.2 L527.1 175.5 L527.6 175.4 L528.1 175.6 L528.6 175.5 L529.2 175.6 L529.7 175.7 L530.2 176.2 L530.7 175.7 L531.2 175.9 L531.7 176.2 L532.2 175.7 L532.7 175.7 L533.2 176.3 L533.7 176.4 L534.2 175.5 L534.7 175.5 L535.2 175.1 L535.7 175.3 L536.2 175.2 L536.7 175.2 L537.2 175.1 L537.7 175.3 L538.2 175.3 L538.7 175.2 L539.2 175.3 L539.7 175.5 L540.2 175.4 L540.7 175.8 L541.2 175.4 L541.7 175.8 L541.7 188.4 L542.2 189.9 L542.7 190.3 L543.2 191.3 L543.7 191.3 L544.2 191.3 L544.7 191.1 L545.2 192 L545.7 192.2 L546.2 191.9 L546.7 191.8 L547.2 191.6 L547.7 192.3 L548.2 192.4 L548.7 191.7 L549.2 191.9 L549.7 192.3 L550.2 192.3 L550.7 192.5 L551.2 192.4 L551.7 192.5 L552.2 192.5 L552.7 192.3 L553.2 192.4 L553.7 192.5 L554.2 192.5 L554.7 192.2 L555.1 192 L555.6 192.2 L556.1 192.6 L556.6 191.8 L557.1 191.8 L557.6 192.4 L558.1 192.8 L558.6 192.5 L559.1 193 L559.6 192.6 L560.1 192.4 L560.6 193.1 L561.1 192.9 L561.6 192.8 L562.1 192.2 L562.6 192.1 L563.1 191.9 L563.6 192.1 L564.1 191.7 L564.6 192.3 L565.1 192.4 L565.6 192.3 L566.1 192.3 L566.6 192.7 L567.1 193.3 L567.6 193.1 L568.1 193.6 L568.6 194 L568.6 178 L569.1 178 L569.6 178 L570.1 177.5 L570.6 177.7 L571.1 177.6 L571.6 177.7 L572.1 177.2 L572.6 177.2 L573.1 177.4 L573.6 177.2 L574.1 177.4 L574.6 177.9 L575.1 177.9 L575.6 177.7 L576.1 178.3 L576.6 177.6 L577.1 177.3 L577.6 177.5 L578.1 177.4 L578.6 176.9 L579.1 177.1 L579.6 177.4 L580.1 177.3 L580.6 177.7 L581.1 177.8 L581.6 178.1 L582.1 177.6 L582.6 177.6 L583.1 178 L583.6 178.4 L584.1 178.5 L584.6 178.3 L585.1 178.2 L585.6 177.8 L586.1 178.1 L586.6 177.7 L587.1 177.7 L587.6 177.2 L588.1 176.9 L588.6 177.5 L589.1 177.5 L589.6 177.6 L590.1 177 L590.6 177.1 L591.1 177.8 L591.6 177.3 L592.1 176.7 L592.6 176.9 L593.1 176.9 L593.6 177 L594.1 176.8 L594.6 177.5 L594.6 188.4 L595.1 189.7 L595.6 189.9 L596.1 190.7 L596.6 191.1 L597.1 191.7 L597.6 191.5 L598.1 191.9 L598.6 191.9 L599.1 192.1 L599.6 192.5 L600 192.6 L600.5 192.5 L601 192 L601.5 192.2 L602 192.6 L602.5 192.5 L603 192.6 L603.5 192.1 L604 191.9 L604.5 192.3 L605 192.9 L605.5 192.9" stroke="#ff0000"/>
<path d="M343.5 191.2 L344 190.6 L344.5 190.6 L345 190.2 L345.5 190.4 L346 191.3 L346.5 191.4 L347 191.3 L347.5 191.7 L348 191.4 L348.5 191.5 L349 191.5 L349.5 191.6 L350 191 L350.5 191.4 L351 191.7 L351.5 190.8 L352 189.9 L352.5 190 L353 190.9 L353.5 191 L354 191.3 L354.5 191.5 L355 191.8 L355.5 191.5 L356 191.3 L356.5 191.4 L357 191.6 L357 165.5 L357.5 165.5 L358 165.4 L358.5 164.9 L359 165.3 L359.5 165.2 L360 165.4 L360.5 163.8 L361 164.5 L361.5 163.2 L362 163.7 L362.5 163.6 L363 163.8 L363.5 163.7 L364 163.7 L364.5 163.9 L365 164.1 L365.5 163.6 L366 162.5 L366.5 162.7 L367 163.4 L367.5 163.1 L368 163.6 L368.5 163.5 L369 163.1 L369.5 163.9 L370 164.5 L370.4 164.1 L370.9 163.9 L371.4 164.2 L371.9 163.3 L372.4 162.9 L372.9 163.6 L373.4 164 L373.9 163.5 L374.4 163 L374.9 163.3 L375.4 162.6 L375.9 162.6 L376.4 162.7 L376.9 161.7 L377.4 162.6 L377.9 163.1 L378.4 163.6 L378.9 162.7 L379.4 162.2 L379.9 162.1 L380.4 161.8 L380.9 163.2 L381.4 162.6 L381.9 162.5 L382.4 162.7 L382.9 162.8 L382.9 187.1 L383.4 188.4 L383.9 189.6 L384.4 189.5 L384.9 190.2 L385.4 190.4 L385.9 190.1 L386.4 190.4 L386.9 190 L387.4 190.9 L387.9 190.7 L388.4 191.1 L388.9 191.6 L389.4 191.3 L389.9 190.9 L390.4 191 L390.9 190.7 L391.4 191.2 L391.9 191.3 L392.4 191 L392.9 190.8 L393.4 191.2 L393.9 190.8 L394.4 191.6 L394.9 191.3 L395.4 191.3 L395.9 191 L396.5 191.7 L397 192 L397.5 192.4 L398 192.5 L398.5 192.3 L399 192.8 L399.5 192.8 L400 192.7 L400.5 192.7 L401 192.8 L401.5 192.7 L402 192.4 L402.5 191.7 L403 192.6 L403.5 192 L404 191.2 L404.5 191.2 L405 192.1 L405.5 192.6 L406 192.3 L406.5 192.4 L407 192.3 L407.5 191.6 L408 191.7 L408.5 192 L409 192.5 L409.5 192.1 L410 191.4 L410 165 L410.5 164.2 L411 164.6 L411.5 164.8 L412 165 L412.5 165.1 L413 164.9 L413.5 164.4 L414 165 L414.5 165.3 L415 165.6 L415.5 166.2 L416 165.3 L416.5 164.3 L416.9 164 L417.4 165.7 L417.9 165.3 L418.4 165.8 L418.9 165.8 L419.4 166.3 L419.9 167.8 L420.4 166.9 L420.9 166.6 L421.4 166.2 L421.9 166.4 L422.4 166.7 L422.9 166.2 L423.4 167 L423.9 167.4 L424.4 167.4 L424.9 167.1 L425.4 167 L425.9 166.2 L426.4 166.9 L426.9 166.5 L427.4 166.6 L427.9 167.4 L428.4 166.9 L428.9 166.9 L429.4 167.6 L429.8 168.5 L430.3 167.8 L430.8 168.4 L431.3 167.8 L431.8 168.1 L432.3 168.3 L432.8 167.7 L433.3 168.3 L433.8 169.2 L434.3 168.8 L434.8 168.8 L435.3 168.1 L435.8 169.1 L436.3 168.5 L436.3 187.1 L436.8 187.3 L437.3 187.8 L437.8 188.8 L438.3 188.8 L438.8 189.1 L439.3 188.8 L439.8 189.8 L440.3 190.9 L440.8 190.7 L441.3 190.6 L441.8 190.5 L442.3 190.4 L442.8 190.8 L443.3 191.4 L443.8 191 L444.3 191.2 L444.8 190.6 L445.3 191.3 L445.8 191.3 L446.3 191.1 L446.8 191.7 L447.3 191.6 L447.8 192.1 L448.3 192.3 L448.8 192.7 L449.3 192.2 L449.7 192 L450.2 192.1 L450.7 191.9 L451.2 192.4 L451.7 192 L452.2 192.3 L452.7 192.7 L453.2 191.8 L453.7 191.4 L454.2 191.2 L454.7 191.2 L455.2 191.6 L455.7 191.6 L456.2 191.7 L456.7 191.7 L457.2 191.8 L457.7 192 L458.2 192.3 L458.7 192 L459.2 192 L459.7 191.8 L460.2 191.9 L460.7 191.5 L461.2 192.1 L461.7 192.4 L462.2 192.4 L462.7 192.2 L462.7 171.5 L463.2 170.7 L463.7 169.6 L464.2 168.3 L464.7 168.9 L465.2 170 L465.7 168.4 L466.2 167.3 L466.7 167.5 L467.2 167.6 L467.7 166.5 L468.2 165.7 L468.7 166.3 L469.2 165.4 L469.7 166.5 L470.2 166.2 L470.7 166.3 L471.2 166.3 L471.7 166 L472.2 166 L472.7 165.9 L473.2 166.6 L473.7 166.3 L474.2 166.2 L474.7 165.8 L475.2 165.6 L475.7 165.3 L476.2 165.5 L476.7 166.5 L477.2 166.7 L477.7 166.4 L478.2 166.9 L478.7 166.9 L479.2 166.5 L479.7 166 L480.2 165.3 L480.7 165.5 L481.2 165.3 L481.7 164.6 L482.2 164.2 L482.7 165.6 L483.2 165.5 L483.7 165.6 L484.2 165.5 L484.7 165.1 L485.2 165.3 L485.7 165.7 L486.2 165.3 L486.7 165.4 L487.2 165.7 L487.7 165.1 L488.2 165.1 L488.7 164.6 L489.2 164.8 L489.2 187.1 L489.7 188.1 L490.2 188.7 L490.7 189.7 L491.2 189.7 L491.7 190.6 L492.2 190.6 L492.7 190.4 L493.2 190.2 L493.7 190.7 L494.2 190.5 L494.7 191.3 L495.2 191.7 L495.7 191.8 L496.2 191.1 L496.7 191.1 L497.2 190.9 L497.7 190.3 L498.2 190.7 L498.7 191.7 L499.2 191.4 L499.7 191.7 L500.2 192.1 L500.7 191.6 L501.2 191.5 L501.7 191.6 L502.2 191.8 L502.8 191.3 L503.3 191.5 L503.8 191.5 L504.3 191.9 L504.8 191.3 L505.3 191.2 L505.8 191.2 L506.3 191.2 L506.8 191.7 L507.3 191.5 L507.8 192.6 L508.3 192.2 L508.8 192.5 L509.3 192.8 L509.8 192.9 L510.3 192.7 L510.8 192.3 L511.3 192.2 L511.8 192.4 L512.3 192.4 L512.8 192.6 L513.3 192.8 L513.8 192.4 L514.3 192 L514.8 192.7 L515.3 192.4 L515.3 167 L515.8 166 L516.3 167.2 L516.8 166.6 L517.3 166.2 L517.8 166.9 L518.3 166.3 L518.8 166 L519.3 166.8 L519.8 166.4 L520.3 167.7 L520.8 167.4 L521.3 168.4 L521.8 167.8 L522.4 167.4 L522.9 166.8 L523.4 166.7 L523.9 166.5 L524.4 166.6 L524.9 167 L525.4 166.3 L525.9 166.1 L526.4 165.3 L526.9 166.6 L527.4 166.7 L527.9 166.7 L528.4 166.7 L528.9 167.2 L529.4 167.2 L529.9 167.5 L530.4 167.1 L530.9 167 L531.4 166.9 L531.9 166 L532.4 166.9 L532.9 166.1 L533.4 165.9 L533.9 166.6 L534.4 166.8 L535 167.2 L535.5 167.9 L536 168.4 L536.5 168.5 L537 167.8 L537.5 168.4 L538 167.4 L538.5 167.2 L539 167.6 L539.5 167.2 L540 167.1 L540.5 166.9 L541 167.6 L541.5 167 L541.5 187.1 L542 187.2 L542.5 188.6 L543 189.6 L543.5 189.9 L544 190.3 L544.5 190.1 L545 190.8 L545.5 191.9 L546 191.4 L546.5 191.8 L547 191.6 L547.5 191.4 L548 191.1 L548.4 191.1 L548.9 190.6 L549.4 190.3 L549.9 191.1 L550.4 191.2 L550.9 191.4 L551.4 191.5 L551.9 191.7 L552.4 191 L552.9 190.8 L553.4 191.2 L553.9 191.7 L554.4 191.2 L554.9 191.1 L555.4 190.8 L555.9 191.3 L556.4 191.5 L556.9 191.6 L557.4 191.4 L557.9 191.6 L558.4 191.7 L558.9 191.5 L559.4 191.7 L559.9 191.5 L560.4 192 L560.9 192.2 L561.4 191.9 L561.8 192.2 L562.3 192.2 L562.8 191.9 L563.3 191.6 L563.8 191.2 L564.3 191 L564.8 191.5 L565.3 192.1 L565.8 191.9 L566.3 192.1 L566.8 192.3 L567.3 192.6 L567.8 192.7 L568.3 193.1 L568.3 173.5 L568.8 173.3 L569.3 171.9 L569.8 171.4 L570.3 169.7 L570.8 169.6 L571.3 169.6 L571.8 169.7 L572.3 169.3 L572.8 169.6 L573.3 170 L573.8 169.1 L574.3 168.7 L574.8 168.8 L575.3 169 L575.8 168.9 L576.3 169.1 L576.8 168.3 L577.3 168.7 L577.8 169.1 L578.3 169.3 L578.8 169.1 L579.3 168.7 L579.8 168.7 L580.3 168.4 L580.8 167.6 L581.3 167.5 L581.9 167.7 L582.4 167.6 L582.9 167.3 L583.4 167.5 L583.9 167.5 L584.4 167.7 L584.9 167.7 L585.4 167.9 L585.9 168.3 L586.4 168.2 L586.9 168.2 L587.4 167.4 L587.9 166.1 L588.4 166.5 L588.9 167.3 L589.4 167.2 L589.9 167.1 L590.4 166.6 L590.9 167.4 L591.4 167.2 L591.9 167.4 L592.4 167.9 L592.9 168 L593.4 168.8 L593.9 168.1 L594.4 167.3 L594.4 187.1 L594.9 189 L595.4 189.8 L595.9 189.9 L596.4 190.3 L596.9 190.3 L597.4 190.2 L597.9 190.7 L598.4 190.6 L598.9 191.5 L599.4 191.2 L600 191.2 L600.5 191.4 L601 191.3 L601.5 191.5 L602 191.4 L602.5 191.1 L603 190.5 L603.5 190.5 L604 191.5 L604.5 191.9 L605 192.1 L605.5 192.1" stroke="#00ff00"/>
<path d="M343.5 188.8 L344 188.8 L344.5 188.9 L345 188.5 L345.5 188.3 L346 188.2 L346.5 188.7 L347 188.5 L347.5 188.9 L348 188.8 L348.5 189.6 L349 189.4 L349.5 189.3 L350 189.6 L350.5 189.7 L351 189.8 L351.5 189.3 L352 189.5 L352.5 189.9 L353 189.6 L353.5 189.3 L354 188.9 L354.5 189.2 L355 189.3 L355.5 189.2 L356 188.8 L356 153 L356.5 153.3 L357 153.4 L357.5 153.2 L358 153.4 L358.5 152.9 L359 153.1 L359.5 152.7 L360 153 L360.5 152.8 L361 153.1 L361.5 152.8 L362 152.8 L362.5 153.1 L362.9 152.7 L363.4 152.7 L363.9 152.4 L364.4 152.7 L364.9 152.5 L365.4 152.4 L365.9 152.3 L366.4 152.7 L366.9 152.4 L367.4 152.4 L367.9 152.3 L368.4 152.2 L368.9 152.1 L369.4 152.2 L369.9 152.3 L370.4 151.9 L370.9 152.1 L371.4 151.9 L371.9 152.1 L372.4 152.8 L372.9 152.5 L373.4 152.4 L373.9 152.4 L374.4 152.7 L374.9 152.5 L375.4 152 L375.8 151.7 L376.3 152 L376.8 152.2 L377.3 152.5 L377.8 152.4 L378.3 152.6 L378.8 152.3 L379.3 152.7 L379.8 152.6 L380.3 152.4 L380.8 152.5 L381.3 152.9 L381.8 152.6 L382.3 152.5 L382.3 183.7 L382.8 184.4 L383.3 185.1 L383.8 185.6 L384.3 186.3 L384.8 187 L385.3 187.3 L385.8 187.6 L386.3 188.2 L386.8 188.2 L387.3 187.9 L387.8 187.3 L388.3 187.7 L388.8 187.7 L389.4 187.8 L389.9 188.1 L390.4 188.4 L390.9 188 L391.4 187.8 L391.9 188.1 L392.4 188.2 L392.9 188.6 L393.4 188.5 L393.9 187.9 L394.4 188.5 L394.9 188 L395.4 187.9 L395.9 188.3 L396.4 188.1 L396.9 189 L397.4 189 L397.9 189.1 L398.4 188.9 L398.9 189.6 L399.4 189.6 L399.9 189.2 L400.4 189.5 L400.9 188.9 L401.4 188.7 L401.9 188.9 L402.5 188.9 L403 188.7 L403.5 189.2 L404 189.6 L404.5 189.2 L405 189.3 L405.5 189.1 L406 189 L406.5 189.3 L407 189.3 L407.5 189.3 L408 189.3 L408.5 188.9 L409 189.4 L409 153 L409.5 152.8 L410 153.1 L410.5 152.9 L411 152.7 L411.5 153.1 L412 153 L412.5 152.7 L413 152.5 L413.5 152.7 L414 153.2 L414.5 153.2 L415 152.9 L415.5 152.5 L416.1 152.3 L416.6 152.3 L417.1 152.4 L417.6 152.2 L418.1 152.6 L418.6 152.3 L419.1 152.2 L419.6 152.3 L420.1 152.5 L420.6 152.3 L421.1 152.6 L421.6 152.2 L422.1 152.6 L422.6 153.1 L423.1 153.4 L423.6 153.2 L424.1 153.5 L424.6 153.2 L425.1 153.3 L425.6 153 L426.1 152.8 L426.6 152.8 L427.1 152.2 L427.6 152.1 L428.1 152.6 L428.6 151.7 L429.2 151.9 L429.7 152.2 L430.2 152.3 L430.7 152.3 L431.2 152.6 L431.7 152.6 L432.2 151.9 L432.7 151.7 L433.2 151.7 L433.7 151.8 L434.2 151.7 L434.7 151.8 L435.2 152.3 L435.7 152 L435.7 183.7 L436.2 184.2 L436.7 185.6 L437.2 186.6 L437.7 187.3 L438.2 187.6 L438.7 187.8 L439.2 188.1 L439.7 188.2 L440.2 188.1 L440.7 188.4 L441.2 188.2 L441.7 188.2 L442.2 188.2 L442.7 187.9 L443.2 188.3 L443.7 188.3 L444.2 188 L444.7 188.2 L445.2 187.9 L445.7 188.5 L446.2 188.7 L446.7 189.3 L447.2 189 L447.7 189.1 L448.2 188.7 L448.7 188.5 L449.2 188.5 L449.7 188.7 L450.2 189 L450.7 188.9 L451.2 189.2 L451.7 189.4 L452.2 189 L452.7 188.9 L453.2 188.7 L453.7 189.2 L454.2 189 L454.7 189.3 L455.2 189.5 L455.7 189.3 L456.2 189.1 L456.7 189.2 L457.2 188.9 L457.7 188.6 L458.2 188.4 L458.7 188.7 L459.2 188.9 L459.7 189.5 L460.2 188.9 L460.7 189.1 L461.2 188.8 L461.7 189.3 L461.7 153.5 L462.2 153.8 L462.7 153.6 L463.2 153.8 L463.7 153.5 L464.2 153.2 L464.7 152.9 L465.2 152.7 L465.7 152.8 L466.2 153 L466.7 153.3 L467.2 153.1 L467.7 152.8 L468.2 152.7 L468.7 152.6 L469.2 152.5 L469.7 152.5 L470.2 152.3 L470.7 152.4 L471.2 152.4 L471.7 152.4 L472.2 152.1 L472.7 152.3 L473.2 152.5 L473.7 152.7 L474.2 152.6 L474.7 152.3 L475.1 152 L475.6 151.9 L476.1 151.9 L476.6 152 L477.1 151.6 L477.6 152 L478.1 151.8 L478.6 151.8 L479.1 151.8 L479.6 152.2 L480.1 152.7 L480.6 152.6 L481.1 152.5 L481.6 152.4 L482.1 152.3 L482.6 152.3 L483.1 153 L483.6 152.5 L484.1 152.5 L484.6 152.2 L485.1 152.4 L485.6 152.2 L486.1 152.4 L486.6 152.1 L487.1 152.7 L487.6 152.7 L488.1 152.1 L488.6 152.3 L488.6 183.7 L489.1 185.2 L489.6 185.9 L490.1 186.2 L490.6 186.9 L491.1 187.1 L491.6 187.7 L492.1 187.7 L492.6 188.2 L493.1 188.3 L493.6 188.4 L494.1 188.5 L494.6 188.4 L495.2 188.3 L495.7 188.5 L496.2 188.7 L496.7 188.6 L497.2 189.2 L497.7 189.6 L498.2 189 L498.7 189.2 L499.2 189.1 L499.7 189 L500.2 188.7 L500.7 189.2 L501.2 188.9 L501.7 188.8 L502.2 188.6 L502.7 189.2 L503.2 189.5 L503.7 188.9 L504.2 188.8 L504.7 188.9 L505.2 188.8 L505.7 188.7 L506.2 188.5 L506.7 188.7 L507.2 188.4 L507.7 188.8 L508.3 189.6 L508.8 189.3 L509.3 189.8 L509.8 189.7 L510.3 189.4 L510.8 189.2 L511.3 188.9 L511.8 189 L512.3 189.2 L512.8 189.5 L513.3 189.4 L513.8 189 L514.3 189 L514.3 152 L514.8 152 L515.3 151.9 L515.8 151.6 L516.3 150.9 L516.8 150.8 L517.3 151 L517.8 150.7 L518.3 151.1 L518.8 150.9 L519.3 150.6 L519.8 150.5 L520.3 150.5 L520.8 150.8 L521.3 150.7 L521.8 150.2 L522.3 150.3 L522.8 150.5 L523.3 150.9 L523.8 150.6 L524.3 150.9 L524.8 151 L525.3 151 L525.8 150.7 L526.3 150.4 L526.8 150.2 L527.3 150.5 L527.9 150.5 L528.4 150.8 L528.9 151.2 L529.4 151 L529.9 150.8 L530.4 151.2 L530.9 150.6 L531.4 150.4 L531.9 150.3 L532.4 150.2 L532.9 150.2 L533.4 150 L533.9 150.4 L534.4 150 L534.9 149.8 L535.4 149.5 L535.9 149.3 L536.4 149.6 L536.9 149.9 L537.4 149.9 L537.9 150.2 L538.4 150.3 L538.9 150.1 L539.4 150 L539.9 150.1 L540.4 150.6 L540.9 150 L540.9 183.7 L541.4 184.7 L541.9 185.7 L542.4 186.6 L542.9 187.4 L543.4 187.8 L543.9 188.3 L544.4 188 L544.9 188 L545.4 187.6 L545.9 187.8 L546.4 188.6 L546.9 188.7 L547.4 188.7 L547.9 188.7 L548.4 188.7 L548.9 188.3 L549.4 188.2 L549.9 188.2 L550.4 188.4 L550.9 188.2 L551.4 188.3 L551.9 188.2 L552.4 187.9 L552.9 187.9 L553.4 187.9 L553.9 188.3 L554.3 188.8 L554.8 189 L555.3 188.9 L555.8 188.7 L556.3 188.3 L556.8 188.3 L557.3 188.9 L557.8 189.2 L558.3 189.2 L558.8 189.1 L559.3 189 L559.8 189.2 L560.3 189.1 L560.8 189.2 L561.3 188.9 L561.8 189 L562.3 188.9 L562.8 189.3 L563.3 188.9 L563.8 189.3 L564.3 189.2 L564.8 189.1 L565.3 189.1 L565.8 189.2 L566.3 189.1 L566.8 189.3 L567.3 189.1 L567.3 153.5 L567.8 153.4 L568.3 153.5 L568.8 153.4 L569.3 153.7 L569.8 153.6 L570.3 153 L570.8 153.3 L571.3 153 L571.8 153.1 L572.3 153.7 L572.8 153.8 L573.3 153.3 L573.8 153.2 L574.3 152.7 L574.8 152.9 L575.3 153.1 L575.8 152.7 L576.3 152.9 L576.8 153.1 L577.3 153.3 L577.8 153 L578.3 152.8 L578.8 152.5 L579.3 152.3 L579.8 152.5 L580.3 152.6 L580.8 153 L581.3 153 L581.8 152.9 L582.3 152.5 L582.8 153 L583.3 153 L583.8 152.9 L584.3 152.6 L584.8 152.4 L585.3 152.7 L585.8 152.4 L586.3 152.7 L586.8 152.9 L587.3 152.7 L587.8 152.3 L588.3 152.5 L588.8 153 L589.3 152.7 L589.8 152.4 L590.3 152.7 L590.8 152.8 L591.3 152.6 L591.8 152.9 L592.3 152.8 L592.8 152.9 L593.3 152.7 L593.8 152.7 L593.8 183.7 L594.3 184.7 L594.8 185.7 L595.3 186.2 L595.8 186.3 L596.3 186.8 L596.9 187.6 L597.4 188.2 L597.9 189 L598.4 189.2 L598.9 189.6 L599.4 189.5 L599.9 189.2 L600.4 189.2 L600.9 188.9 L601.4 189.1 L601.9 189 L602.4 189.1 L603 188.8 L603.5 188.9 L604 189.2 L604.5 189.2 L605 189 L605.5 189.2" stroke="#0000ff"/>
<path d="M343.5 189.2 L344 189.5 L344.5 189.4 L345 189 L345.5 188.6 L346 188.4 L346.5 188.9 L347 189 L347.5 189.2 L348 189.5 L348.5 189.6 L349 189.6 L349.5 189.4 L350 188.9 L350.4 189.2 L350.9 189.2 L351.4 189.4 L351.9 189.1 L352.4 189.1 L352.9 189.8 L353.4 189.4 L353.9 189.4 L354.4 189.8 L354.9 189.6 L355.4 189.6 L355.9 188.9 L356.4 189.3 L356.9 189.2 L356.9 140 L357.4 140 L357.9 139.6 L358.4 139.2 L358.9 139.1 L359.4 138.9 L359.9 138.7 L360.4 138.9 L360.9 139 L361.4 138.8 L361.9 138.8 L362.4 138.9 L362.9 138.8 L363.4 138.6 L363.9 138.5 L364.4 138.5 L364.9 138.5 L365.4 138.4 L365.9 138.2 L366.4 138.1 L366.9 138.2 L367.4 137.9 L367.9 137.9 L368.4 138 L368.9 138 L369.4 137.9 L369.9 137.8 L370.3 137.7 L370.8 137.9 L371.3 137.8 L371.8 137.3 L372.3 137.1 L372.8 137.3 L373.3 137.4 L373.8 137.3 L374.3 137.1 L374.8 137.1 L375.3 137 L375.8 137 L376.3 137.1 L376.8 137 L377.3 137.1 L377.8 137 L378.3 137 L378.8 137 L379.3 137.4 L379.8 137.7 L380.3 137.8 L380.8 137.4 L381.3 137.4 L381.8 137.5 L382.3 137.6 L382.8 137.1 L382.8 185.5 L383.3 185.8 L383.8 186.7 L384.3 187.1 L384.8 187.9 L385.3 188.4 L385.8 188.4 L386.3 189.3 L386.8 189.2 L387.3 189.9 L387.8 189.7 L388.3 189.6 L388.8 190 L389.3 189.7 L389.8 189.5 L390.3 189.9 L390.8 189.7 L391.3 189.8 L391.8 189.3 L392.3 189.9 L392.8 190 L393.3 190 L393.8 190.1 L394.3 189.8 L394.8 189.6 L395.3 189.1 L395.8 189.3 L396.4 189.7 L396.9 189.9 L397.4 190.1 L397.9 190.2 L398.4 189.8 L398.9 189.4 L399.4 189.6 L399.9 189.7 L400.4 190 L400.9 189.9 L401.4 189.6 L401.9 189.7 L402.4 189.6 L402.9 189.2 L403.4 189.2 L403.9 189.1 L404.4 189 L404.9 189 L405.4 189.5 L405.9 190.3 L406.4 190.7 L406.9 190.4 L407.4 190.6 L407.9 190.4 L408.4 190.5 L408.9 190.2 L409.4 190.1 L409.9 189.6 L409.9 142 L410.4 141.9 L410.9 140.9 L411.4 140.4 L411.9 139.7 L412.4 139.4 L412.9 138.8 L413.4 138.5 L413.9 138.5 L414.4 138.5 L414.9 137.9 L415.4 138 L415.9 137.6 L416.4 137.7 L416.8 137.8 L417.3 137.6 L417.8 137.5 L418.3 137.4 L418.8 137.5 L419.3 137.7 L419.8 137.9 L420.3 137.8 L420.8 138.1 L421.3 137.7 L421.8 138 L422.3 137.7 L422.8 137.8 L423.3 137.6 L423.8 137.5 L424.3 137.2 L424.8 137.2 L425.3 137.7 L425.8 137.5 L426.3 137.4 L426.8 137.3 L427.3 137.4 L427.8 137.2 L428.3 137.1 L428.8 137.1 L429.3 137.3 L429.7 137.4 L430.2 137 L430.7 136.8 L431.2 136.8 L431.7 136.9 L432.2 137.1 L432.7 136.9 L433.2 137.3 L433.7 137.1 L434.2 137.3 L434.7 137.4 L435.2 137.5 L435.7 137.3 L436.2 136.5 L436.2 185.5 L436.7 186.3 L437.2 186.6 L437.7 186.8 L438.2 187.2 L438.7 187.9 L439.2 188.6 L439.7 188.7 L440.2 189.1 L440.7 189.3 L441.2 189.7 L441.7 189.2 L442.2 189 L442.7 188.8 L443.2 188.6 L443.7 189.3 L444.2 189 L444.7 188.9 L445.2 188.9 L445.7 189.3 L446.2 189.2 L446.7 189.5 L447.2 189.6 L447.7 189.4 L448.2 188.8 L448.7 188.7 L449.2 188.6 L449.6 189.3 L450.1 189.2 L450.6 189 L451.1 189.2 L451.6 189.4 L452.1 189.2 L452.6 189.6 L453.1 189.9 L453.6 189.9 L454.1 189.7 L454.6 189.4 L455.1 188.9 L455.6 189.3 L456.1 189.5 L456.6 189.3 L457.1 189.5 L457.6 190.5 L458.1 190.1 L458.6 189.5 L459.1 189.8 L459.6 189.7 L460.1 189.6 L460.6 189.9 L461.1 189.9 L461.6 190.2 L462.1 190.3 L462.6 190.6 L462.6 141.5 L463.1 141.5 L463.6 140.4 L464.1 140.3 L464.6 139.6 L465.1 139.6 L465.6 139.4 L466.1 138.8 L466.6 138.7 L467.1 138.8 L467.6 138.4 L468.1 138.4 L468.6 138.1 L469.1 137.9 L469.6 137.7 L470.1 138 L470.6 138.1 L471.1 138 L471.6 137.9 L472.1 137.8 L472.6 137.8 L473.1 137.8 L473.6 137.3 L474.1 137.5 L474.6 137.2 L475.1 136.6 L475.6 136.9 L476.1 136.7 L476.6 136.7 L477.1 136.7 L477.6 136.6 L478.1 136.8 L478.6 136.7 L479.1 136.6 L479.6 136.4 L480.1 136.4 L480.6 136.1 L481.1 136.2 L481.6 136.5 L482.1 136.7 L482.6 136.6 L483.1 136.2 L483.6 136.4 L484.1 136.5 L484.6 136.8 L485.1 136.1 L485.6 136 L486.1 135.9 L486.6 136 L487.1 135.7 L487.6 135.6 L488.1 136 L488.6 136.1 L489.1 135.5 L489.1 185.5 L489.6 186.3 L490.1 187.1 L490.6 188 L491.1 188.1 L491.6 188.6 L492.1 188.8 L492.6 188.5 L493.1 188.5 L493.6 189 L494.1 189.4 L494.6 189.2 L495.1 189.6 L495.6 189.3 L496.1 189.4 L496.6 189.4 L497.1 189 L497.6 189.2 L498.1 189.1 L498.6 188.4 L499.1 188.4 L499.6 188.5 L500.1 188.5 L500.6 188.5 L501.1 188.5 L501.6 188.1 L502.2 188.7 L502.7 189 L503.2 189.2 L503.7 189.2 L504.2 189.3 L504.7 189.3 L505.2 189.1 L505.7 188.8 L506.2 189.1 L506.7 189.5 L507.2 189.7 L507.7 190.1 L508.2 189.7 L508.7 189.6 L509.2 189.5 L509.7 189.9 L510.2 190.4 L510.7 190.1 L511.2 190.3 L511.7 190.1 L512.2 189.8 L512.7 189.8 L513.2 189.5 L513.7 190.1 L514.2 190.3 L514.7 190.5 L515.2 190.5 L515.2 140.5 L515.7 139.8 L516.2 139.6 L516.7 139.3 L517.2 138.5 L517.7 138.4 L518.2 138.6 L518.7 138.8 L519.2 138.4 L519.7 138.4 L520.2 138.4 L520.7 138.2 L521.2 138.1 L521.8 138.1 L522.3 138.2 L522.8 138.3 L523.3 138.1 L523.8 137.7 L524.3 138 L524.8 138.3 L525.3 138 L525.8 137.9 L526.3 138.1 L526.8 137.6 L527.3 137.8 L527.8 138.3 L528.3 138.2 L528.8 137.9 L529.3 138.3 L529.8 138.2 L530.3 138.1 L530.8 137.9 L531.3 137.9 L531.8 137.4 L532.3 137.2 L532.8 137 L533.3 137.3 L533.8 137.4 L534.3 137.7 L534.9 137.2 L535.4 137.2 L535.9 137.6 L536.4 137.4 L536.9 137 L537.4 137 L537.9 137.1 L538.4 137.2 L538.9 137.5 L539.4 137.8 L539.9 138.1 L540.4 138.1 L540.9 137.8 L541.4 137.5 L541.4 185.5 L541.9 186.7 L542.4 186.9 L542.9 187.9 L543.4 188.6 L543.9 188.8 L544.4 188.6 L544.9 189 L545.4 189.2 L545.9 189.2 L546.4 188.9 L546.9 189.1 L547.4 189 L547.9 189.3 L548.3 189.4 L548.8 189.5 L549.3 189.4 L549.8 189.8 L550.3 189.9 L550.8 190.2 L551.3 190.2 L551.8 190.2 L552.3 190.1 L552.8 189.7 L553.3 189.1 L553.8 188.9 L554.3 189.3 L554.8 189.6 L555.3 189.6 L555.8 189.7 L556.3 190.2 L556.8 189.9 L557.3 189.3 L557.8 189 L558.3 189.1 L558.8 189.4 L559.3 189.7 L559.8 189.7 L560.3 189.9 L560.8 189.9 L561.3 189.6 L561.7 189.6 L562.2 189.9 L562.7 190.1 L563.2 189.7 L563.7 189.5 L564.2 189.6 L564.7 190.3 L565.2 189.9 L565.7 189.5 L566.2 189.8 L566.7 190 L567.2 189.8 L567.7 189.9 L568.2 190.1 L568.2 139.5 L568.7 139.1 L569.2 139 L569.7 139.1 L570.2 139.2 L570.7 139.3 L571.2 139.1 L571.7 138.7 L572.2 138.9 L572.7 139 L573.2 138.8 L573.7 138.9 L574.2 139.1 L574.7 138.9 L575.2 138.3 L575.7 138.2 L576.2 138.1 L576.7 138 L577.2 138.1 L577.7 138 L578.2 138.2 L578.7 138.7 L579.2 138.4 L579.7 138.6 L580.2 138.5 L580.7 138.6 L581.2 138.5 L581.8 138.8 L582.3 138.5 L582.8 138.7 L583.3 138.4 L583.8 138.5 L584.3 138.5 L584.8 138.7 L585.3 138.3 L585.8 138 L586.3 138.4 L586.8 138.5 L587.3 138.8 L587.8 138.5 L588.3 138.5 L588.8 138.6 L589.3 138.9 L589.8 138.8 L590.3 138.6 L590.8 138.7 L591.3 138.6 L591.8 138.3 L592.3 138.5 L592.8 138 L593.3 137.9 L593.8 138.3 L594.3 138.3 L594.3 185.5 L594.8 186.4 L595.3 187.1 L595.8 187.8 L596.3 188.5 L596.8 188.9 L597.4 188.8 L597.9 188.8 L598.4 189.3 L598.9 189.3 L599.4 189.2 L599.9 189.6 L600.4 189.9 L600.9 190.5 L601.4 190 L601.9 189.8 L602.4 189.6 L603 189.8 L603.5 189.7 L604 190.1 L604.5 189.3 L605 189.8 L605.5 189.7" stroke="#00ffff"/>
<path d="M343.5 188 L344 187.9 L344.5 188.1 L345 188.2 L345.5 187.8 L346 188.3 L346.5 188.4 L347.1 188.2 L347.6 188.2 L348.1 187.9 L348.6 187.6 L349.1 187.6 L349.6 187.9 L350.1 187.9 L350.6 187.8 L351.1 187.5 L351.6 187.1 L352.1 187.9 L352.6 188 L353.1 187.8 L353.6 188.3 L354.2 188.4 L354.7 188.2 L355.2 188 L355.7 188.4 L356.2 188.5 L356.7 188.9 L357.2 188.8 L357.2 123 L357.7 122.1 L358.2 121.4 L358.7 120.8 L359.2 120.8 L359.7 120.7 L360.2 120.6 L360.7 120.5 L361.2 119.7 L361.7 119.6 L362.2 119.1 L362.7 119.5 L363.2 118.8 L363.7 118.8 L364.2 118.6 L364.7 118.5 L365.2 118.6 L365.7 119.4 L366.2 119 L366.7 118.2 L367.2 118.3 L367.7 118.7 L368.2 118.8 L368.7 118.7 L369.2 119.3 L369.7 119.3 L370.1 118.8 L370.6 119 L371.1 117.9 L371.6 117.9 L372.1 117.5 L372.6 117.8 L373.1 118.4 L373.6 117.9 L374.1 118.4 L374.6 117.6 L375.1 118.1 L375.6 117.1 L376.1 116.9 L376.6 117.5 L377.1 117.3 L377.6 117.3 L378.1 117.2 L378.6 117.2 L379.1 117 L379.6 116.5 L380.1 116.6 L380.6 116.7 L381.1 116.3 L381.6 116.7 L382.1 117.4 L382.6 116.2 L383.1 116.5 L383.1 183.5 L383.6 184.8 L384.1 185.3 L384.6 185.8 L385.1 186.2 L385.6 186.2 L386.1 186.5 L386.6 186.7 L387.1 186.8 L387.6 187.3 L388.1 187.4 L388.6 186.9 L389.1 186.6 L389.6 186.9 L390.1 186.9 L390.6 186.8 L391.1 186.6 L391.6 186.7 L392.1 186.8 L392.6 186.8 L393.1 186.8 L393.6 187.2 L394.1 187.5 L394.6 187.7 L395.1 187.6 L395.6 187.2 L396.1 187.5 L396.7 187.9 L397.2 188.2 L397.7 188.4 L398.2 188.3 L398.7 188.2 L399.2 188.1 L399.7 188.3 L400.2 188.1 L400.7 188.6 L401.2 188.6 L401.7 188.3 L402.2 188.2 L402.7 187.6 L403.2 187.4 L403.7 187.5 L404.2 188.3 L404.7 187.9 L405.2 188.2 L405.7 188.1 L406.2 188 L406.7 188.1 L407.2 187.5 L407.7 187.9 L408.2 188.5 L408.7 188.4 L409.2 188.3 L409.7 188.3 L410.2 188.4 L410.2 123 L410.7 122 L411.2 121.8 L411.7 121.6 L412.2 121.1 L412.7 121 L413.2 120.9 L413.7 120.9 L414.2 120.1 L414.7 119.8 L415.2 119.7 L415.7 120.2 L416.2 120.1 L416.7 119.2 L417.1 118.8 L417.6 119.9 L418.1 119.8 L418.6 119 L419.1 118.8 L419.6 119 L420.1 119.7 L420.6 120.1 L421.1 119.4 L421.6 119 L422.1 119.8 L422.6 118.9 L423.1 119.5 L423.6 119.2 L424.1 119 L424.6 119.3 L425.1 119.1 L425.6 118.5 L426.1 117.8 L426.6 118.1 L427.1 118.4 L427.6 118.9 L428.1 117.5 L428.6 118.4 L429.1 118.5 L429.6 118.9 L430 118.8 L430.5 118.4 L431 118.3 L431.5 118.2 L432 117.7 L432.5 117.7 L433 117.7 L433.5 117.5 L434 116.9 L434.5 116.6 L435 117.2 L435.5 117.5 L436 117.4 L436.5 117.3 L436.5 183.5 L437 184.4 L437.5 185.4 L438 185.7 L438.5 185.5 L439 186.4 L439.5 186.2 L440 187.1 L440.5 187.3 L441 187.1 L441.5 186.5 L442 186.5 L442.5 187.1 L443 187.6 L443.5 187.6 L444 187 L444.5 187 L445 187 L445.5 187.2 L446 187.2 L446.5 187.4 L447 186.9 L447.5 186.9 L448 187.5 L448.5 187 L449 187.4 L449.5 188.1 L449.9 188.2 L450.4 187.6 L450.9 188 L451.4 187.4 L451.9 187.5 L452.4 187.4 L452.9 187.9 L453.4 188.2 L453.9 188.1 L454.4 188.5 L454.9 188.6 L455.4 188.3 L455.9 187.9 L456.4 188.6 L456.9 188.3 L457.4 188.3 L457.9 188.1 L458.4 187.9 L458.9 187.5 L459.4 187.5 L459.9 187.6 L460.4 188 L460.9 187.8 L461.4 187.4 L461.9 187.3 L462.4 187.4 L462.9 187.7 L462.9 122.5 L463.4 122.3 L463.9 121.5 L464.4 121.4 L464.9 121.1 L465.4 121.4 L465.9 120.8 L466.4 120.5 L466.9 120.5 L467.4 120.7 L467.9 119.9 L468.4 119.6 L468.9 119.6 L469.4 118.7 L469.9 119.7 L470.4 120.1 L470.9 119.8 L471.4 121 L471.9 120.8 L472.4 120.9 L472.9 120.8 L473.4 120.4 L473.9 119.3 L474.4 119.9 L474.9 119.7 L475.4 118.9 L475.9 119.1 L476.4 119.4 L476.9 119.6 L477.4 119.4 L477.9 119 L478.4 119.3 L478.9 118.8 L479.4 118.8 L479.9 119.2 L480.4 118.4 L480.9 118.8 L481.4 117.9 L481.9 118 L482.4 117.8 L482.9 118.2 L483.4 118.7 L483.9 118.7 L484.4 119 L484.9 118.8 L485.4 118.6 L485.9 118.7 L486.4 118.5 L486.9 118.5 L487.4 118.9 L487.9 118.4 L488.4 118.8 L488.9 118.1 L489.4 118.3 L489.4 183.5 L489.9 184.2 L490.4 184.4 L490.9 185 L491.4 186 L491.9 186.4 L492.4 187 L492.9 186.6 L493.4 186.5 L493.9 186.8 L494.4 187.2 L494.9 187.4 L495.4 186.9 L495.9 187.2 L496.4 187.2 L496.9 187.3 L497.4 187.4 L497.9 187.3 L498.4 186.9 L498.9 186.7 L499.4 186.5 L499.9 186.3 L500.4 186.6 L500.9 187.2 L501.4 187.1 L501.9 187 L502.5 186.8 L503 186.5 L503.5 186.8 L504 186.8 L504.5 187 L505 186.9 L505.5 187.2 L506 187 L506.5 187.3 L507 187.2 L507.5 187.6 L508 187.4 L508.5 187.6 L509 187.8 L509.5 187.8 L510 188.3 L510.5 188.2 L511 187.9 L511.5 188.1 L512 187.8 L512.5 187.7 L513 187.8 L513.5 187.9 L514 188.4 L514.5 187.8 L515 187.8 L515.5 188.2 L515.5 123 L516 122.2 L516.5 121.9 L517 122.1 L517.5 120.9 L518 120.7 L518.5 120.9 L519 120.3 L519.5 119.5 L520 119.3 L520.5 119.7 L521 119.8 L521.5 120.6 L522 120.7 L522.6 119.5 L523.1 120 L523.6 120.2 L524.1 120.5 L524.6 119.9 L525.1 119.5 L525.6 119.5 L526.1 120.1 L526.6 120 L527.1 120.4 L527.6 120.2 L528.1 119.5 L528.6 118.9 L529.1 119.8 L529.6 118.9 L530.1 118.9 L530.6 118.8 L531.1 118.6 L531.6 118.6 L532.1 118.8 L532.6 119.9 L533.1 119.4 L533.6 118.9 L534.1 119 L534.6 119.3 L535.1 118.7 L535.7 118.6 L536.2 118 L536.7 118.7 L537.2 119 L537.7 119.5 L538.2 118.6 L538.7 119.5 L539.2 119.4 L539.7 118.9 L540.2 118.6 L540.7 118.4 L541.2 117.9 L541.7 118.5 L541.7 183.5 L542.2 184.8 L542.7 185.2 L543.2 185.5 L543.7 186.1 L544.2 186.4 L544.7 186.4 L545.2 186.6 L545.7 186.6 L546.2 187.1 L546.7 187.5 L547.2 187.2 L547.7 187.2 L548.2 187.6 L548.6 187.5 L549.1 187.9 L549.6 187.9 L550.1 188 L550.6 187.2 L551.1 187.5 L551.6 187.6 L552.1 187.7 L552.6 187.8 L553.1 187.9 L553.6 187.6 L554.1 187.9 L554.6 187.8 L555.1 187.4 L555.6 187.2 L556.1 187.3 L556.6 187.5 L557.1 186.9 L557.6 186.5 L558.1 187.1 L558.6 187.2 L559.1 188.2 L559.6 187.6 L560.1 187.6 L560.6 187.4 L561.1 187.7 L561.6 188.1 L562 188.5 L562.5 188.1 L563 188.4 L563.5 187.9 L564 188 L564.5 188 L565 188.2 L565.5 187.9 L566 188.3 L566.5 188.2 L567 188.1 L567.5 188 L568 187.7 L568.5 188 L568.5 123.4 L569 122.6 L569.5 122.3 L570 122.6 L570.5 121.5 L571 121 L571.5 120.9 L572 121.1 L572.5 120.6 L573 120.9 L573.5 120.7 L574 119.7 L574.5 119.6 L575 118.9 L575.5 119.3 L576 119.4 L576.5 119.9 L577 119.9 L577.5 119.8 L578 120.3 L578.5 120.2 L579 119.4 L579.5 119.2 L580 119.5 L580.5 120.3 L581 119.8 L581.5 119.6 L582.1 119.6 L582.6 119.8 L583.1 119.6 L583.6 119.6 L584.1 119.3 L584.6 119 L585.1 118.8 L585.6 119.3 L586.1 119 L586.6 119.3 L587.1 119.4 L587.6 119.7 L588.1 118.2 L588.6 118.2 L589.1 118.1 L589.6 118.5 L590.1 119 L590.6 120.1 L591.1 120.1 L591.6 120.1 L592.1 119.6 L592.6 119 L593.1 119.1 L593.6 118 L594.1 118.7 L594.6 118.7 L594.6 183.5 L595.1 184.5 L595.6 185.4 L596.1 185.6 L596.6 185.7 L597.1 186 L597.6 186.3 L598.1 186.7 L598.6 186.8 L599.1 187.1 L599.6 187.4 L600 187.1 L600.5 187.3 L601 186.9 L601.5 187 L602 187.5 L602.5 187.3 L603 188 L603.5 188.2 L604 188.4 L604.5 188.3 L605 188.5 L605.5 188.7" stroke="#ff00ff"/>
<path d="M343.5 184.3 L344 184.4 L344.5 184.1 L345 184 L345.5 185.1 L346 184.5 L346.5 184.2 L347 184 L347.5 183.5 L348 183.8 L348.5 184.3 L349 184.1 L349.5 184 L350.1 184.4 L350.6 184.6 L351.1 184.3 L351.6 184.5 L352.1 184 L352.6 184.7 L353.1 184.1 L353.6 184.2 L354.1 184.4 L354.6 184.3 L355.1 183.9 L355.6 185.2 L356.1 185.5 L356.1 97 L356.6 94.5 L357.1 94.5 L357.6 92.9 L358.1 93.2 L358.6 91.7 L359.1 92.4 L359.6 92.2 L360.1 92.8 L360.6 92.4 L361.1 90.9 L361.6 91.5 L362.1 90.5 L362.6 90.4 L363.2 90.1 L363.7 89 L364.2 90.4 L364.7 88.7 L365.2 89.6 L365.7 90.3 L366.2 90.1 L366.7 88.8 L367.2 89.1 L367.7 90.1 L368.2 90.5 L368.7 90.9 L369.2 88.5 L369.7 89.6 L370.2 89.1 L370.7 89.8 L371.2 88.2 L371.7 88.9 L372.2 89.6 L372.7 88.8 L373.2 88.7 L373.7 88.3 L374.2 89.6 L374.7 88.1 L375.2 88 L375.7 88.4 L376.3 88.4 L376.8 90.1 L377.3 89.1 L377.8 88.1 L378.3 88.8 L378.8 88.8 L379.3 88.7 L379.8 88.3 L380.3 88.6 L380.8 86 L381.3 87.2 L381.8 87.6 L382.3 87.2 L382.8 88 L382.8 181.8 L383.3 183.1 L383.8 183.9 L384.3 184.1 L384.8 183.9 L385.3 183.9 L385.8 183.5 L386.3 183.1 L386.8 183.8 L387.3 183.3 L387.8 183.8 L388.3 183.9 L388.8 184.4 L389.3 184.2 L389.7 184.2 L390.2 184 L390.7 183.4 L391.2 183.7 L391.7 184.4 L392.2 184.8 L392.7 185.1 L393.2 184.2 L393.7 183.9 L394.2 184.5 L394.7 184.3 L395.2 185.5 L395.7 185.1 L396.2 184.1 L396.7 184.1 L397.2 185.1 L397.7 184 L398.2 184.4 L398.7 184 L399.2 185.1 L399.7 184.7 L400.2 184.3 L400.7 183.8 L401.2 184.1 L401.7 183.4 L402.2 184 L402.6 185.5 L403.1 185.2 L403.6 184.9 L404.1 184.4 L404.6 184.9 L405.1 184.8 L405.6 184.5 L406.1 185.5 L406.6 185.4 L407.1 184.8 L407.6 185.7 L408.1 185.3 L408.6 185.5 L409.1 185.4 L409.1 98 L409.6 97.3 L410.1 96 L410.6 94.4 L411.1 94.3 L411.6 93 L412.1 92.8 L412.6 93.5 L413.1 91.4 L413.6 90.8 L414.1 90.9 L414.6 90.7 L415.1 91.9 L415.6 89.9 L416.1 92.2 L416.6 92 L417.1 90.4 L417.6 90.5 L418.1 90 L418.6 90.6 L419.1 90.6 L419.6 90.6 L420.1 90.6 L420.6 91.3 L421.1 89.9 L421.6 90.2 L422.1 89.5 L422.6 89.5 L423.2 89.5 L423.7 89.3 L424.2 89.5 L424.7 88.6 L425.2 88.9 L425.7 88.5 L426.2 88 L426.7 88.2 L427.2 88.3 L427.7 88.5 L428.2 87.5 L428.7 88.1 L429.2 87.6 L429.7 87.6 L430.2 88.3 L430.7 89 L431.2 88.5 L431.7 87.8 L432.2 87.6 L432.7 88.8 L433.2 86.9 L433.7 88.4 L434.2 86.8 L434.7 87 L435.2 87.5 L435.7 87.3 L436.2 87.4 L436.2 181.8 L436.7 183.2 L437.2 183.3 L437.7 183.3 L438.2 183.8 L438.7 183.7 L439.2 183.4 L439.7 184.2 L440.2 184.7 L440.7 184.8 L441.2 183.8 L441.7 184.8 L442.2 184.2 L442.7 184.5 L443.2 184.9 L443.7 185.5 L444.2 184 L444.7 183.7 L445.2 184.6 L445.7 184.7 L446.2 184.3 L446.7 183.1 L447.2 184.1 L447.7 184.2 L448.2 183.2 L448.7 185.2 L449.3 183.7 L449.8 184 L450.3 184.3 L450.8 184.6 L451.3 185 L451.8 184.7 L452.3 184.3 L452.8 184.4 L453.3 183.7 L453.8 183.8 L454.3 185.3 L454.8 184.7 L455.3 184.8 L455.8 185.7 L456.3 185.7 L456.8 185.3 L457.3 185.4 L457.8 185.1 L458.3 184.6 L458.8 185.3 L459.3 185.2 L459.8 185.9 L460.3 185.3 L460.8 185.1 L461.3 185.3 L461.8 185.2 L461.8 97.5 L462.3 96.1 L462.8 94.7 L463.3 94.6 L463.8 94.2 L464.3 94.8 L464.8 93.2 L465.3 91.4 L465.8 92.4 L466.3 93.7 L466.8 91.9 L467.3 91.1 L467.8 91.3 L468.3 89.2 L468.7 90.6 L469.2 90.8 L469.7 89.8 L470.2 91.1 L470.7 90.2 L471.2 89.2 L471.7 89.8 L472.2 90.8 L472.7 91.9 L473.2 91.5 L473.7 90.7 L474.2 89.9 L474.7 89.9 L475.2 90.7 L475.7 89.7 L476.2 90.2 L476.7 90.6 L477.2 89.2 L477.7 89.2 L478.2 89.8 L478.7 89.6 L479.2 89.4 L479.7 89 L480.2 89.2 L480.7 90.5 L481.2 90.4 L481.7 88.2 L482.2 88.9 L482.6 89 L483.1 88.9 L483.6 87.8 L484.1 88.4 L484.6 88.7 L485.1 88.1 L485.6 88.6 L486.1 86.7 L486.6 86.9 L487.1 88.1 L487.6 88.5 L488.1 88.1 L488.6 87.7 L489.1 88 L489.1 181.8 L489.6 182.4 L490.1 183.3 L490.6 183.7 L491.1 183.5 L491.6 183.4 L492.1 184.1 L492.6 184.2 L493.1 184.4 L493.6 184 L494.1 183.6 L494.6 184 L495.1 183.8 L495.5 184.5 L496 184.7 L496.5 183.4 L497 184.2 L497.5 184.9 L498 185 L498.5 184.4 L499 184 L499.5 184.7 L500 185 L500.5 184.7 L501 184 L501.5 183.6 L502 184.3 L502.5 184.1 L503 184.1 L503.5 184.6 L504 185.1 L504.5 183.9 L505 184.1 L505.5 185.1 L506 184.9 L506.5 184.7 L507 185 L507.5 184.4 L508 184.1 L508.4 184.6 L508.9 185.5 L509.4 185.6 L509.9 185.2 L510.4 185.5 L510.9 185 L511.4 184.5 L511.9 184.1 L512.4 184.8 L512.9 185.4 L513.4 185.4 L513.9 185.3 L514.4 185.1 L514.4 97 L514.9 96.5 L515.4 95 L515.9 93.1 L516.4 94.2 L516.9 92.6 L517.4 92.7 L517.9 92.2 L518.4 92.6 L518.9 92 L519.4 92.4 L519.9 91.6 L520.4 90.8 L520.9 90.5 L521.4 91.2 L521.9 90.2 L522.4 91.2 L522.9 90.5 L523.4 89.7 L523.9 89.6 L524.4 90 L524.9 91.4 L525.4 90.9 L525.9 90.2 L526.4 89.3 L526.9 91.1 L527.4 89.9 L527.9 89.8 L528.4 89.4 L528.9 90.5 L529.4 89.9 L529.9 89.2 L530.4 89.5 L530.9 88.7 L531.4 88.4 L531.9 88.9 L532.4 87 L532.9 89.5 L533.4 90.6 L533.9 88.5 L534.4 88.7 L534.9 87.7 L535.4 88.7 L535.9 88.8 L536.4 89.2 L536.9 87.7 L537.4 87.9 L537.9 87.9 L538.4 88.1 L538.9 89.9 L539.4 88.4 L539.9 88.2 L540.4 87.8 L540.9 88.6 L541.4 88 L541.4 181.8 L541.9 183.5 L542.4 183.7 L542.9 184.2 L543.4 183.3 L543.9 184 L544.4 183.8 L544.9 184.4 L545.4 184.6 L545.9 184.5 L546.4 183.5 L546.9 183.9 L547.4 183.8 L547.9 184.2 L548.4 184.2 L548.9 184.7 L549.4 183.7 L549.9 183.7 L550.4 184 L550.9 184.4 L551.4 184.2 L551.9 184.3 L552.4 184.4 L552.9 184.9 L553.4 184.6 L553.9 184.6 L554.4 183.7 L554.9 183 L555.4 183.3 L555.9 184.2 L556.4 183.4 L556.9 184.4 L557.4 184.5 L557.9 184.6 L558.4 184.4 L558.9 184.4 L559.4 185 L559.9 185.1 L560.4 184.9 L560.9 184.7 L561.4 184.9 L561.9 185.4 L562.4 185.1 L562.9 184.9 L563.4 184.4 L563.9 184.8 L564.4 184.6 L564.9 184.2 L565.4 185.1 L565.9 184.9 L566.4 184.1 L566.9 184.4 L567.4 185.7 L567.4 98.4 L567.9 97.2 L568.4 95.2 L568.9 94.3 L569.4 95 L569.9 94.5 L570.4 93.9 L570.9 93.2 L571.4 93.3 L571.9 93.9 L572.4 93.1 L572.9 92.3 L573.4 91.1 L573.9 92.1 L574.4 93 L574.9 92.5 L575.4 90.9 L575.9 91.6 L576.4 92.4 L576.9 91.1 L577.4 91.6 L577.9 92.2 L578.4 92.6 L578.9 90.3 L579.4 89.6 L579.9 91 L580.4 91.4 L580.8 90.7 L581.3 90.8 L581.8 90.4 L582.3 91.5 L582.8 89.2 L583.3 90.4 L583.8 89.5 L584.3 89.7 L584.8 89.1 L585.3 89.4 L585.8 90 L586.3 90.2 L586.8 91.4 L587.3 90.2 L587.8 90.3 L588.3 90.2 L588.8 90.1 L589.3 90.9 L589.8 90.1 L590.3 89.9 L590.8 89.6 L591.3 89.6 L591.8 89.5 L592.3 90.2 L592.8 89.5 L593.3 89.4 L593.8 89.2 L594.3 89.2 L594.3 181.8 L594.8 183 L595.3 182.9 L595.8 183.6 L596.3 183.4 L596.8 184 L597.4 184.9 L597.9 184.5 L598.4 184.3 L598.9 183.8 L599.4 184.5 L599.9 184.5 L600.4 185 L600.9 184.5 L601.4 184.9 L601.9 185.6 L602.4 185.3 L603 184.9 L603.5 184.4 L604 184.8 L604.5 185.3 L605 185.5 L605.5 184.8" stroke="#808000"/>
</g>
<g class="ax">
<line x1="343" y1="210.7" x2="347.2" y2="210.7"/>
<line x1="343" y1="201.3" x2="345.6" y2="201.3"/>
<line x1="343" y1="191.8" x2="347.2" y2="191.8"/>
<line x1="343" y1="182.4" x2="345.6" y2="182.4"/>
<line x1="343" y1="173" x2="347.2" y2="173"/>
<line x1="343" y1="163.5" x2="345.6" y2="163.5"/>
<line x1="343" y1="154.1" x2="347.2" y2="154.1"/>
<line x1="343" y1="144.7" x2="345.6" y2="144.7"/>
<line x1="343" y1="135.2" x2="347.2" y2="135.2"/>
<line x1="343" y1="125.8" x2="345.6" y2="125.8"/>
<line x1="343" y1="116.3" x2="347.2" y2="116.3"/>
<line x1="343" y1="106.9" x2="345.6" y2="106.9"/>
<line x1="343" y1="97.5" x2="347.2" y2="97.5"/>
<line x1="343" y1="88" x2="345.6" y2="88"/>
<line x1="343" y1="78.6" x2="347.2" y2="78.6"/>
<line x1="343" y1="69.2" x2="345.6" y2="69.2"/>
<line x1="343" y1="59.7" x2="347.2" y2="59.7"/>
<line x1="343" y1="50.3" x2="345.6" y2="50.3"/>
<line x1="343" y1="40.9" x2="347.2" y2="40.9"/>
<line x1="343" y1="31.4" x2="345.6" y2="31.4"/>
<line x1="343" y1="22" x2="347.2" y2="22"/>
<line x1="360.6" y1="210.7" x2="360.6" y2="207.1"/>
<line x1="395.6" y1="210.7" x2="395.6" y2="207.1"/>
<line x1="430.8" y1="210.7" x2="430.8" y2="207.1"/>
<line x1="465.9" y1="210.7" x2="465.9" y2="207.1"/>
<line x1="500.9" y1="210.7" x2="500.9" y2="207.1"/>
<line x1="536" y1="210.7" x2="536" y2="207.1"/>
<line x1="571.1" y1="210.7" x2="571.1" y2="207.1"/>
<line x1="606.2" y1="210.7" x2="606.2" y2="207.1"/>
</g>
<rect x="343" y="22" width="263.7" height="189.0" fill="none" stroke="#000" stroke-width="2"/>
<g class="tk">
<text x="338.7" y="213.5" text-anchor="end">0.5</text>
<text x="338.7" y="194.6" text-anchor="end">1.0</text>
<text x="338.7" y="175.8" text-anchor="end">1.5</text>
<text x="338.7" y="156.9" text-anchor="end">2.0</text>
<text x="338.7" y="138" text-anchor="end">2.5</text>
<text x="338.7" y="119.1" text-anchor="end">3.0</text>
<text x="338.7" y="100.3" text-anchor="end">3.5</text>
<text x="338.7" y="81.4" text-anchor="end">4.0</text>
<text x="338.7" y="62.5" text-anchor="end">4.5</text>
<text x="338.7" y="43.7" text-anchor="end">5.0</text>
<text x="338.7" y="24.8" text-anchor="end">5.5</text>
<text x="360.6" y="222.5" text-anchor="middle">40</text>
<text x="395.6" y="222.5" text-anchor="middle">60</text>
<text x="430.8" y="222.5" text-anchor="middle">80</text>
<text x="465.9" y="222.5" text-anchor="middle">100</text>
<text x="500.9" y="222.5" text-anchor="middle">120</text>
<text x="536" y="222.5" text-anchor="middle">140</text>
<text x="571.1" y="222.5" text-anchor="middle">160</text>
<text x="606.2" y="222.5" text-anchor="middle">180</text>
</g>
<line x1="354.9" y1="35.5" x2="372.7" y2="35.5" stroke="#000000" stroke-width="1.3"/>
<text x="375.1" y="38.5" class="lg">1mW/cm<tspan class="sup" dy="-6.2">2</tspan></text>
<line x1="423.7" y1="35.5" x2="441.6" y2="35.5" stroke="#c81c1c" stroke-width="1.3"/>
<text x="444" y="38.5" class="lg">3mW/cm<tspan class="sup" dy="-6.2">2</tspan></text>
<line x1="492.6" y1="35.5" x2="510.5" y2="35.5" stroke="#20e020" stroke-width="1.3"/>
<text x="513.2" y="38.5" class="lg">5mW/cm<tspan class="sup" dy="-6.2">2</tspan></text>
<line x1="354.9" y1="51" x2="372.7" y2="51" stroke="#2020f0" stroke-width="1.3"/>
<text x="375.1" y="54" class="lg">7mW/cm<tspan class="sup" dy="-6.2">2</tspan></text>
<line x1="423.7" y1="51" x2="441.6" y2="51" stroke="#00ffff" stroke-width="1.3"/>
<text x="444" y="54" class="lg">10mW/cm<tspan class="sup" dy="-6.2">2</tspan></text>
<line x1="495.9" y1="51" x2="514" y2="51" stroke="#ff00ff" stroke-width="1.3"/>
<text x="516.5" y="54" class="lg">13mW/cm<tspan class="sup" dy="-6.2">2</tspan></text>
<line x1="354.9" y1="66.3" x2="372.7" y2="66.3" stroke="#86862a" stroke-width="1.3"/>
<text x="375.1" y="69.3" class="lg">15mW/cm<tspan class="sup" dy="-6.2">2</tspan></text>
<text class="lb" x="456.6" y="77.3">(00<tspan font-style="italic">l</tspan>) Cs<tspan class="sub" dy="4.1" dx="0.2">3</tspan><tspan dy="-4.1" dx="0.3">Bi</tspan><tspan class="sub" dy="4.1" dx="0.2">2</tspan><tspan dy="-4.1" dx="0.3">I</tspan><tspan class="sub" dy="4.1" dx="0.2">9</tspan><tspan dy="-4.1" dx="0.3"> SC</tspan></text>
<text class="lb" x="549.8" y="77.3">(525nm)</text>
<text class="ttl" x="477.2" y="236.2" text-anchor="middle">Time (s)</text>
<text class="ttl" transform="translate(320.7 110) rotate(-90)" text-anchor="middle" style="font-size:13.7px">Current (nA)</text>
<text class="pl" x="303" y="16.4">(b)</text>
</svg>
</body></html>
